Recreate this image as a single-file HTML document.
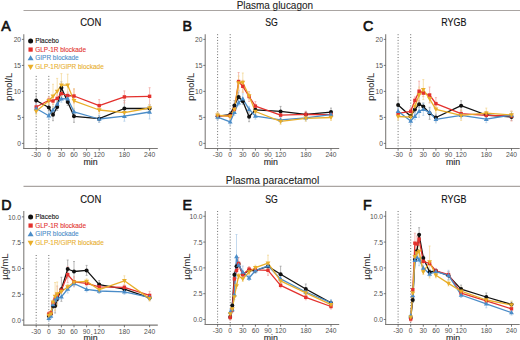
<!DOCTYPE html><html><head><meta charset="utf-8"><style>html,body{margin:0;padding:0;width:520px;height:340px;overflow:hidden;background:#fff;font-family:"Liberation Sans", sans-serif}</style></head><body><svg width="520" height="340" viewBox="0 0 520 340" style="position:absolute;left:0;top:0;font-family:'Liberation Sans', sans-serif">
<rect width="520" height="340" fill="#fff"/>
<line x1="23.5" y1="10.45" x2="520" y2="10.45" stroke="#aaa5a2" stroke-width="1.15"/>
<text x="274.85" y="8.70" font-size="10.2" fill="#222" text-anchor="middle" font-weight="normal" textLength="76.30" lengthAdjust="spacingAndGlyphs" stroke="#222" stroke-width="0.08">Plasma glucagon</text>
<line x1="23.5" y1="186.35" x2="520" y2="186.35" stroke="#aaa5a2" stroke-width="1.15"/>
<text x="272.50" y="184.40" font-size="10.2" fill="#222" text-anchor="middle" font-weight="normal" textLength="93.40" lengthAdjust="spacingAndGlyphs" stroke="#222" stroke-width="0.08">Plasma paracetamol</text>
<text x="1.20" y="31.30" font-size="15.0" fill="#111" text-anchor="start" font-weight="normal" textLength="9.50" lengthAdjust="spacingAndGlyphs" stroke="#111" stroke-width="0.65">A</text>
<text x="90.75" y="26.00" font-size="10.3" fill="#111" text-anchor="middle" font-weight="normal" textLength="21.00" lengthAdjust="spacingAndGlyphs" stroke="#111" stroke-width="0.12">CON</text>
<line x1="36.20" y1="75.9" x2="36.20" y2="148.5" stroke="#555" stroke-width="0.85" stroke-dasharray="1 1.85"/>
<line x1="48.80" y1="75.9" x2="48.80" y2="148.5" stroke="#555" stroke-width="0.85" stroke-dasharray="1 1.85"/>
<line x1="23.8" y1="34.3" x2="23.8" y2="149.0" stroke="#7a7876" stroke-width="1.05"/>
<line x1="23.3" y1="148.5" x2="157.8" y2="148.5" stroke="#7a7876" stroke-width="1.05"/>
<line x1="21.900000000000002" y1="143.40" x2="23.8" y2="143.40" stroke="#555" stroke-width="0.8"/>
<text x="21.10" y="146.20" font-size="7.8" fill="#505050" text-anchor="end" font-weight="normal" textLength="3.73" lengthAdjust="spacingAndGlyphs" >0</text>
<line x1="21.900000000000002" y1="117.40" x2="23.8" y2="117.40" stroke="#555" stroke-width="0.8"/>
<text x="21.10" y="120.20" font-size="7.8" fill="#505050" text-anchor="end" font-weight="normal" textLength="3.73" lengthAdjust="spacingAndGlyphs" >5</text>
<line x1="21.900000000000002" y1="91.40" x2="23.8" y2="91.40" stroke="#555" stroke-width="0.8"/>
<text x="21.10" y="94.20" font-size="7.8" fill="#505050" text-anchor="end" font-weight="normal" textLength="7.46" lengthAdjust="spacingAndGlyphs" >10</text>
<line x1="21.900000000000002" y1="65.40" x2="23.8" y2="65.40" stroke="#555" stroke-width="0.8"/>
<text x="21.10" y="68.20" font-size="7.8" fill="#505050" text-anchor="end" font-weight="normal" textLength="7.46" lengthAdjust="spacingAndGlyphs" >15</text>
<line x1="21.900000000000002" y1="39.40" x2="23.8" y2="39.40" stroke="#555" stroke-width="0.8"/>
<text x="21.10" y="42.20" font-size="7.8" fill="#505050" text-anchor="end" font-weight="normal" textLength="7.46" lengthAdjust="spacingAndGlyphs" >20</text>
<line x1="36.20" y1="148.5" x2="36.20" y2="150.7" stroke="#555" stroke-width="0.8"/>
<text x="36.20" y="157.10" font-size="7.8" fill="#505050" text-anchor="middle" font-weight="normal" textLength="9.70" lengthAdjust="spacingAndGlyphs" >-30</text>
<line x1="48.80" y1="148.5" x2="48.80" y2="150.7" stroke="#555" stroke-width="0.8"/>
<text x="48.80" y="157.10" font-size="7.8" fill="#505050" text-anchor="middle" font-weight="normal" textLength="3.73" lengthAdjust="spacingAndGlyphs" >0</text>
<line x1="61.40" y1="148.5" x2="61.40" y2="150.7" stroke="#555" stroke-width="0.8"/>
<text x="61.40" y="157.10" font-size="7.8" fill="#505050" text-anchor="middle" font-weight="normal" textLength="7.46" lengthAdjust="spacingAndGlyphs" >30</text>
<line x1="74.00" y1="148.5" x2="74.00" y2="150.7" stroke="#555" stroke-width="0.8"/>
<text x="74.00" y="157.10" font-size="7.8" fill="#505050" text-anchor="middle" font-weight="normal" textLength="7.46" lengthAdjust="spacingAndGlyphs" >60</text>
<line x1="86.60" y1="148.5" x2="86.60" y2="150.7" stroke="#555" stroke-width="0.8"/>
<text x="86.60" y="157.10" font-size="7.8" fill="#505050" text-anchor="middle" font-weight="normal" textLength="7.46" lengthAdjust="spacingAndGlyphs" >90</text>
<line x1="99.20" y1="148.5" x2="99.20" y2="150.7" stroke="#555" stroke-width="0.8"/>
<text x="99.20" y="157.10" font-size="7.8" fill="#505050" text-anchor="middle" font-weight="normal" textLength="11.19" lengthAdjust="spacingAndGlyphs" >120</text>
<line x1="124.40" y1="148.5" x2="124.40" y2="150.7" stroke="#555" stroke-width="0.8"/>
<text x="124.40" y="157.10" font-size="7.8" fill="#505050" text-anchor="middle" font-weight="normal" textLength="11.19" lengthAdjust="spacingAndGlyphs" >180</text>
<line x1="149.60" y1="148.5" x2="149.60" y2="150.7" stroke="#555" stroke-width="0.8"/>
<text x="149.60" y="157.10" font-size="7.8" fill="#505050" text-anchor="middle" font-weight="normal" textLength="11.19" lengthAdjust="spacingAndGlyphs" >240</text>
<text x="90.50" y="164.50" font-size="8.8" fill="#222" text-anchor="middle" font-weight="normal" stroke="#222" stroke-width="0.1">min</text>
<text x="0.00" y="0.00" font-size="9.3" fill="#2a2a2a" text-anchor="middle" font-weight="normal" stroke="#2a2a2a" stroke-width="0.05" transform="translate(12.100000000000001,86.7) rotate(-90)">pmol/L</text>
<path d="M36.20 93.50V107.50M35.20 93.50H37.20M35.20 107.50H37.20" stroke="#9a9a9a" stroke-width="0.7" fill="none"/>
<path d="M48.80 104.00V111.00M47.80 104.00H49.80M47.80 111.00H49.80" stroke="#9a9a9a" stroke-width="0.7" fill="none"/>
<path d="M53.00 108.70V120.70M52.00 108.70H54.00M52.00 120.70H54.00" stroke="#9a9a9a" stroke-width="0.7" fill="none"/>
<path d="M57.20 103.50V110.50M56.20 103.50H58.20M56.20 110.50H58.20" stroke="#9a9a9a" stroke-width="0.7" fill="none"/>
<path d="M61.40 81.80V93.80M60.40 81.80H62.40M60.40 93.80H62.40" stroke="#9a9a9a" stroke-width="0.7" fill="none"/>
<path d="M67.70 98.40V105.40M66.70 98.40H68.70M66.70 105.40H68.70" stroke="#9a9a9a" stroke-width="0.7" fill="none"/>
<path d="M74.00 110.30V122.30M73.00 110.30H75.00M73.00 122.30H75.00" stroke="#9a9a9a" stroke-width="0.7" fill="none"/>
<path d="M99.20 115.20V122.20M98.20 115.20H100.20M98.20 122.20H100.20" stroke="#9a9a9a" stroke-width="0.7" fill="none"/>
<path d="M124.40 100.50V116.50M123.40 100.50H125.40M123.40 116.50H125.40" stroke="#9a9a9a" stroke-width="0.7" fill="none"/>
<path d="M149.60 105.00V112.00M148.60 105.00H150.60M148.60 112.00H150.60" stroke="#9a9a9a" stroke-width="0.7" fill="none"/>
<path d="M36.20 102.00V112.00M35.20 102.00H37.20M35.20 112.00H37.20" stroke="#F1A09A" stroke-width="0.7" fill="none"/>
<path d="M48.80 96.80V103.80M47.80 96.80H49.80M47.80 103.80H49.80" stroke="#F1A09A" stroke-width="0.7" fill="none"/>
<path d="M53.00 97.50V104.50M52.00 97.50H54.00M52.00 104.50H54.00" stroke="#F1A09A" stroke-width="0.7" fill="none"/>
<path d="M57.20 94.90V101.90M56.20 94.90H58.20M56.20 101.90H58.20" stroke="#F1A09A" stroke-width="0.7" fill="none"/>
<path d="M61.40 90.10V97.10M60.40 90.10H62.40M60.40 97.10H62.40" stroke="#F1A09A" stroke-width="0.7" fill="none"/>
<path d="M67.70 92.00V99.00M66.70 92.00H68.70M66.70 99.00H68.70" stroke="#F1A09A" stroke-width="0.7" fill="none"/>
<path d="M74.00 89.00V103.00M73.00 89.00H75.00M73.00 103.00H75.00" stroke="#F1A09A" stroke-width="0.7" fill="none"/>
<path d="M99.20 99.60V111.60M98.20 99.60H100.20M98.20 111.60H100.20" stroke="#F1A09A" stroke-width="0.7" fill="none"/>
<path d="M124.40 90.90V102.90M123.40 90.90H125.40M123.40 102.90H125.40" stroke="#F1A09A" stroke-width="0.7" fill="none"/>
<path d="M149.60 87.70V104.90M148.60 87.70H150.60M148.60 104.90H150.60" stroke="#F1A09A" stroke-width="0.7" fill="none"/>
<path d="M36.20 103.50V113.50M35.20 103.50H37.20M35.20 113.50H37.20" stroke="#A9C9E6" stroke-width="0.7" fill="none"/>
<path d="M48.80 112.20V119.20M47.80 112.20H49.80M47.80 119.20H49.80" stroke="#A9C9E6" stroke-width="0.7" fill="none"/>
<path d="M53.00 106.40V113.40M52.00 106.40H54.00M52.00 113.40H54.00" stroke="#A9C9E6" stroke-width="0.7" fill="none"/>
<path d="M57.20 100.60V107.60M56.20 100.60H58.20M56.20 107.60H58.20" stroke="#A9C9E6" stroke-width="0.7" fill="none"/>
<path d="M61.40 95.20V102.20M60.40 95.20H62.40M60.40 102.20H62.40" stroke="#A9C9E6" stroke-width="0.7" fill="none"/>
<path d="M67.70 95.30V102.30M66.70 95.30H68.70M66.70 102.30H68.70" stroke="#A9C9E6" stroke-width="0.7" fill="none"/>
<path d="M74.00 108.30V115.30M73.00 108.30H75.00M73.00 115.30H75.00" stroke="#A9C9E6" stroke-width="0.7" fill="none"/>
<path d="M99.20 115.50V122.50M98.20 115.50H100.20M98.20 122.50H100.20" stroke="#A9C9E6" stroke-width="0.7" fill="none"/>
<path d="M124.40 111.20V121.20M123.40 111.20H125.40M123.40 121.20H125.40" stroke="#A9C9E6" stroke-width="0.7" fill="none"/>
<path d="M149.60 105.00V119.00M148.60 105.00H150.60M148.60 119.00H150.60" stroke="#A9C9E6" stroke-width="0.7" fill="none"/>
<path d="M36.20 107.80V114.80M35.20 107.80H37.20M35.20 114.80H37.20" stroke="#F2D48E" stroke-width="0.7" fill="none"/>
<path d="M48.80 97.30V104.30M47.80 97.30H49.80M47.80 104.30H49.80" stroke="#F2D48E" stroke-width="0.7" fill="none"/>
<path d="M53.00 84.30V108.30M52.00 84.30H54.00M52.00 108.30H54.00" stroke="#F2D48E" stroke-width="0.7" fill="none"/>
<path d="M57.20 78.40V104.40M56.20 78.40H58.20M56.20 104.40H58.20" stroke="#F2D48E" stroke-width="0.7" fill="none"/>
<path d="M61.40 73.60V96.80M60.40 73.60H62.40M60.40 96.80H62.40" stroke="#F2D48E" stroke-width="0.7" fill="none"/>
<path d="M67.70 74.20V96.20M66.70 74.20H68.70M66.70 96.20H68.70" stroke="#F2D48E" stroke-width="0.7" fill="none"/>
<path d="M74.00 88.80V112.80M73.00 88.80H75.00M73.00 112.80H75.00" stroke="#F2D48E" stroke-width="0.7" fill="none"/>
<path d="M99.20 106.50V113.50M98.20 106.50H100.20M98.20 113.50H100.20" stroke="#F2D48E" stroke-width="0.7" fill="none"/>
<path d="M124.40 109.20V116.20M123.40 109.20H125.40M123.40 116.20H125.40" stroke="#F2D48E" stroke-width="0.7" fill="none"/>
<path d="M149.60 104.50V111.50M148.60 104.50H150.60M148.60 111.50H150.60" stroke="#F2D48E" stroke-width="0.7" fill="none"/>
<polyline points="36.20,100.50 48.80,107.50 53.00,114.70 57.20,107.00 61.40,87.80 67.70,101.90 74.00,116.30 99.20,118.70 124.40,108.50 149.60,108.50" fill="none" stroke="#111111" stroke-width="1.3" stroke-linejoin="round"/>
<polyline points="36.20,107.00 48.80,100.30 53.00,101.00 57.20,98.40 61.40,93.60 67.70,95.50 74.00,96.00 99.20,105.60 124.40,96.90 149.60,96.30" fill="none" stroke="#E3312D" stroke-width="1.3" stroke-linejoin="round"/>
<polyline points="36.20,108.50 48.80,115.70 53.00,109.90 57.20,104.10 61.40,98.70 67.70,98.80 74.00,111.80 99.20,119.00 124.40,116.20 149.60,112.00" fill="none" stroke="#4A8CC8" stroke-width="1.3" stroke-linejoin="round"/>
<polyline points="36.20,111.30 48.80,100.80 53.00,96.30 57.20,91.40 61.40,85.20 67.70,85.20 74.00,100.80 99.20,110.00 124.40,112.70 149.60,108.00" fill="none" stroke="#E9AE2A" stroke-width="1.3" stroke-linejoin="round"/>
<circle cx="36.20" cy="100.50" r="2.0" fill="#111111"/>
<circle cx="48.80" cy="107.50" r="2.0" fill="#111111"/>
<circle cx="53.00" cy="114.70" r="2.0" fill="#111111"/>
<circle cx="57.20" cy="107.00" r="2.0" fill="#111111"/>
<circle cx="61.40" cy="87.80" r="2.0" fill="#111111"/>
<circle cx="67.70" cy="101.90" r="2.0" fill="#111111"/>
<circle cx="74.00" cy="116.30" r="2.0" fill="#111111"/>
<circle cx="99.20" cy="118.70" r="2.0" fill="#111111"/>
<circle cx="124.40" cy="108.50" r="2.0" fill="#111111"/>
<circle cx="149.60" cy="108.50" r="2.0" fill="#111111"/>
<rect x="34.50" y="105.30" width="3.40" height="3.40" fill="#E3312D"/>
<rect x="47.10" y="98.60" width="3.40" height="3.40" fill="#E3312D"/>
<rect x="51.30" y="99.30" width="3.40" height="3.40" fill="#E3312D"/>
<rect x="55.50" y="96.70" width="3.40" height="3.40" fill="#E3312D"/>
<rect x="59.70" y="91.90" width="3.40" height="3.40" fill="#E3312D"/>
<rect x="66.00" y="93.80" width="3.40" height="3.40" fill="#E3312D"/>
<rect x="72.30" y="94.30" width="3.40" height="3.40" fill="#E3312D"/>
<rect x="97.50" y="103.90" width="3.40" height="3.40" fill="#E3312D"/>
<rect x="122.70" y="95.20" width="3.40" height="3.40" fill="#E3312D"/>
<rect x="147.90" y="94.60" width="3.40" height="3.40" fill="#E3312D"/>
<path d="M36.20 106.02L38.60 110.18L33.80 110.18Z" fill="#4A8CC8"/>
<path d="M48.80 113.22L51.20 117.38L46.40 117.38Z" fill="#4A8CC8"/>
<path d="M53.00 107.42L55.40 111.58L50.60 111.58Z" fill="#4A8CC8"/>
<path d="M57.20 101.62L59.60 105.78L54.80 105.78Z" fill="#4A8CC8"/>
<path d="M61.40 96.22L63.80 100.38L59.00 100.38Z" fill="#4A8CC8"/>
<path d="M67.70 96.32L70.10 100.48L65.30 100.48Z" fill="#4A8CC8"/>
<path d="M74.00 109.32L76.40 113.48L71.60 113.48Z" fill="#4A8CC8"/>
<path d="M99.20 116.52L101.60 120.68L96.80 120.68Z" fill="#4A8CC8"/>
<path d="M124.40 113.72L126.80 117.88L122.00 117.88Z" fill="#4A8CC8"/>
<path d="M149.60 109.52L152.00 113.68L147.20 113.68Z" fill="#4A8CC8"/>
<path d="M36.20 113.78L38.60 109.62L33.80 109.62Z" fill="#E9AE2A"/>
<path d="M48.80 103.28L51.20 99.12L46.40 99.12Z" fill="#E9AE2A"/>
<path d="M53.00 98.78L55.40 94.62L50.60 94.62Z" fill="#E9AE2A"/>
<path d="M57.20 93.88L59.60 89.72L54.80 89.72Z" fill="#E9AE2A"/>
<path d="M61.40 87.68L63.80 83.52L59.00 83.52Z" fill="#E9AE2A"/>
<path d="M67.70 87.68L70.10 83.52L65.30 83.52Z" fill="#E9AE2A"/>
<path d="M74.00 103.28L76.40 99.12L71.60 99.12Z" fill="#E9AE2A"/>
<path d="M99.20 112.48L101.60 108.32L96.80 108.32Z" fill="#E9AE2A"/>
<path d="M124.40 115.18L126.80 111.02L122.00 111.02Z" fill="#E9AE2A"/>
<path d="M149.60 110.48L152.00 106.32L147.20 106.32Z" fill="#E9AE2A"/>
<text x="182.60" y="31.30" font-size="15.0" fill="#111" text-anchor="start" font-weight="normal" textLength="9.50" lengthAdjust="spacingAndGlyphs" stroke="#111" stroke-width="0.65">B</text>
<text x="271.50" y="26.00" font-size="10.3" fill="#111" text-anchor="middle" font-weight="normal" textLength="12.60" lengthAdjust="spacingAndGlyphs" stroke="#111" stroke-width="0.12">SG</text>
<line x1="217.60" y1="34.2" x2="217.60" y2="148.5" stroke="#555" stroke-width="0.85" stroke-dasharray="1 1.85"/>
<line x1="230.20" y1="34.2" x2="230.20" y2="148.5" stroke="#555" stroke-width="0.85" stroke-dasharray="1 1.85"/>
<line x1="205.2" y1="34.3" x2="205.2" y2="149.0" stroke="#7a7876" stroke-width="1.05"/>
<line x1="204.7" y1="148.5" x2="339.2" y2="148.5" stroke="#7a7876" stroke-width="1.05"/>
<line x1="203.29999999999998" y1="143.40" x2="205.2" y2="143.40" stroke="#555" stroke-width="0.8"/>
<text x="202.50" y="146.20" font-size="7.8" fill="#505050" text-anchor="end" font-weight="normal" textLength="3.73" lengthAdjust="spacingAndGlyphs" >0</text>
<line x1="203.29999999999998" y1="117.40" x2="205.2" y2="117.40" stroke="#555" stroke-width="0.8"/>
<text x="202.50" y="120.20" font-size="7.8" fill="#505050" text-anchor="end" font-weight="normal" textLength="3.73" lengthAdjust="spacingAndGlyphs" >5</text>
<line x1="203.29999999999998" y1="91.40" x2="205.2" y2="91.40" stroke="#555" stroke-width="0.8"/>
<text x="202.50" y="94.20" font-size="7.8" fill="#505050" text-anchor="end" font-weight="normal" textLength="7.46" lengthAdjust="spacingAndGlyphs" >10</text>
<line x1="203.29999999999998" y1="65.40" x2="205.2" y2="65.40" stroke="#555" stroke-width="0.8"/>
<text x="202.50" y="68.20" font-size="7.8" fill="#505050" text-anchor="end" font-weight="normal" textLength="7.46" lengthAdjust="spacingAndGlyphs" >15</text>
<line x1="203.29999999999998" y1="39.40" x2="205.2" y2="39.40" stroke="#555" stroke-width="0.8"/>
<text x="202.50" y="42.20" font-size="7.8" fill="#505050" text-anchor="end" font-weight="normal" textLength="7.46" lengthAdjust="spacingAndGlyphs" >20</text>
<line x1="217.60" y1="148.5" x2="217.60" y2="150.7" stroke="#555" stroke-width="0.8"/>
<text x="217.60" y="157.10" font-size="7.8" fill="#505050" text-anchor="middle" font-weight="normal" textLength="9.70" lengthAdjust="spacingAndGlyphs" >-30</text>
<line x1="230.20" y1="148.5" x2="230.20" y2="150.7" stroke="#555" stroke-width="0.8"/>
<text x="230.20" y="157.10" font-size="7.8" fill="#505050" text-anchor="middle" font-weight="normal" textLength="3.73" lengthAdjust="spacingAndGlyphs" >0</text>
<line x1="242.80" y1="148.5" x2="242.80" y2="150.7" stroke="#555" stroke-width="0.8"/>
<text x="242.80" y="157.10" font-size="7.8" fill="#505050" text-anchor="middle" font-weight="normal" textLength="7.46" lengthAdjust="spacingAndGlyphs" >30</text>
<line x1="255.40" y1="148.5" x2="255.40" y2="150.7" stroke="#555" stroke-width="0.8"/>
<text x="255.40" y="157.10" font-size="7.8" fill="#505050" text-anchor="middle" font-weight="normal" textLength="7.46" lengthAdjust="spacingAndGlyphs" >60</text>
<line x1="268.00" y1="148.5" x2="268.00" y2="150.7" stroke="#555" stroke-width="0.8"/>
<text x="268.00" y="157.10" font-size="7.8" fill="#505050" text-anchor="middle" font-weight="normal" textLength="7.46" lengthAdjust="spacingAndGlyphs" >90</text>
<line x1="280.60" y1="148.5" x2="280.60" y2="150.7" stroke="#555" stroke-width="0.8"/>
<text x="280.60" y="157.10" font-size="7.8" fill="#505050" text-anchor="middle" font-weight="normal" textLength="11.19" lengthAdjust="spacingAndGlyphs" >120</text>
<line x1="305.80" y1="148.5" x2="305.80" y2="150.7" stroke="#555" stroke-width="0.8"/>
<text x="305.80" y="157.10" font-size="7.8" fill="#505050" text-anchor="middle" font-weight="normal" textLength="11.19" lengthAdjust="spacingAndGlyphs" >180</text>
<line x1="331.00" y1="148.5" x2="331.00" y2="150.7" stroke="#555" stroke-width="0.8"/>
<text x="331.00" y="157.10" font-size="7.8" fill="#505050" text-anchor="middle" font-weight="normal" textLength="11.19" lengthAdjust="spacingAndGlyphs" >240</text>
<text x="270.90" y="164.50" font-size="8.8" fill="#222" text-anchor="middle" font-weight="normal" stroke="#222" stroke-width="0.1">min</text>
<text x="0.00" y="0.00" font-size="9.3" fill="#2a2a2a" text-anchor="middle" font-weight="normal" stroke="#2a2a2a" stroke-width="0.05" transform="translate(193.5,86.7) rotate(-90)">pmol/L</text>
<path d="M217.60 113.20V119.20M216.60 113.20H218.60M216.60 119.20H218.60" stroke="#9a9a9a" stroke-width="0.7" fill="none"/>
<path d="M230.20 111.60V117.60M229.20 111.60H231.20M229.20 117.60H231.20" stroke="#9a9a9a" stroke-width="0.7" fill="none"/>
<path d="M234.40 100.60V110.60M233.40 100.60H235.40M233.40 110.60H235.40" stroke="#9a9a9a" stroke-width="0.7" fill="none"/>
<path d="M238.60 91.90V101.90M237.60 91.90H239.60M237.60 101.90H239.60" stroke="#9a9a9a" stroke-width="0.7" fill="none"/>
<path d="M242.80 98.20V104.20M241.80 98.20H243.80M241.80 104.20H243.80" stroke="#9a9a9a" stroke-width="0.7" fill="none"/>
<path d="M249.10 111.70V121.70M248.10 111.70H250.10M248.10 121.70H250.10" stroke="#9a9a9a" stroke-width="0.7" fill="none"/>
<path d="M255.40 106.80V112.80M254.40 106.80H256.40M254.40 112.80H256.40" stroke="#9a9a9a" stroke-width="0.7" fill="none"/>
<path d="M280.60 106.40V116.40M279.60 106.40H281.60M279.60 116.40H281.60" stroke="#9a9a9a" stroke-width="0.7" fill="none"/>
<path d="M305.80 111.40V117.40M304.80 111.40H306.80M304.80 117.40H306.80" stroke="#9a9a9a" stroke-width="0.7" fill="none"/>
<path d="M331.00 108.10V116.10M330.00 108.10H332.00M330.00 116.10H332.00" stroke="#9a9a9a" stroke-width="0.7" fill="none"/>
<path d="M217.60 112.80V118.80M216.60 112.80H218.60M216.60 118.80H218.60" stroke="#F1A09A" stroke-width="0.7" fill="none"/>
<path d="M230.20 112.80V118.80M229.20 112.80H231.20M229.20 118.80H231.20" stroke="#F1A09A" stroke-width="0.7" fill="none"/>
<path d="M234.40 106.40V112.40M233.40 106.40H235.40M233.40 112.40H235.40" stroke="#F1A09A" stroke-width="0.7" fill="none"/>
<path d="M238.60 72.50V90.50M237.60 72.50H239.60M237.60 90.50H239.60" stroke="#F1A09A" stroke-width="0.7" fill="none"/>
<path d="M242.80 80.30V92.30M241.80 80.30H243.80M241.80 92.30H243.80" stroke="#F1A09A" stroke-width="0.7" fill="none"/>
<path d="M249.10 91.50V101.50M248.10 91.50H250.10M248.10 101.50H250.10" stroke="#F1A09A" stroke-width="0.7" fill="none"/>
<path d="M255.40 101.60V110.60M254.40 101.60H256.40M254.40 110.60H256.40" stroke="#F1A09A" stroke-width="0.7" fill="none"/>
<path d="M280.60 112.10V118.10M279.60 112.10H281.60M279.60 118.10H281.60" stroke="#F1A09A" stroke-width="0.7" fill="none"/>
<path d="M305.80 111.40V117.40M304.80 111.40H306.80M304.80 117.40H306.80" stroke="#F1A09A" stroke-width="0.7" fill="none"/>
<path d="M331.00 111.60V117.60M330.00 111.60H332.00M330.00 117.60H332.00" stroke="#F1A09A" stroke-width="0.7" fill="none"/>
<path d="M217.60 114.10V120.10M216.60 114.10H218.60M216.60 120.10H218.60" stroke="#A9C9E6" stroke-width="0.7" fill="none"/>
<path d="M230.20 118.90V124.90M229.20 118.90H231.20M229.20 124.90H231.20" stroke="#A9C9E6" stroke-width="0.7" fill="none"/>
<path d="M234.40 109.30V115.30M233.40 109.30H235.40M233.40 115.30H235.40" stroke="#A9C9E6" stroke-width="0.7" fill="none"/>
<path d="M238.60 99.70V105.70M237.60 99.70H239.60M237.60 105.70H239.60" stroke="#A9C9E6" stroke-width="0.7" fill="none"/>
<path d="M242.80 93.80V103.80M241.80 93.80H243.80M241.80 103.80H243.80" stroke="#A9C9E6" stroke-width="0.7" fill="none"/>
<path d="M249.10 106.40V112.40M248.10 106.40H250.10M248.10 112.40H250.10" stroke="#A9C9E6" stroke-width="0.7" fill="none"/>
<path d="M255.40 113.10V119.10M254.40 113.10H256.40M254.40 119.10H256.40" stroke="#A9C9E6" stroke-width="0.7" fill="none"/>
<path d="M280.60 116.90V122.90M279.60 116.90H281.60M279.60 122.90H281.60" stroke="#A9C9E6" stroke-width="0.7" fill="none"/>
<path d="M305.80 114.90V120.90M304.80 114.90H306.80M304.80 120.90H306.80" stroke="#A9C9E6" stroke-width="0.7" fill="none"/>
<path d="M331.00 111.60V117.60M330.00 111.60H332.00M330.00 117.60H332.00" stroke="#A9C9E6" stroke-width="0.7" fill="none"/>
<path d="M217.60 112.20V118.20M216.60 112.20H218.60M216.60 118.20H218.60" stroke="#F2D48E" stroke-width="0.7" fill="none"/>
<path d="M230.20 113.50V119.50M229.20 113.50H231.20M229.20 119.50H231.20" stroke="#F2D48E" stroke-width="0.7" fill="none"/>
<path d="M234.40 106.40V112.40M233.40 106.40H235.40M233.40 112.40H235.40" stroke="#F2D48E" stroke-width="0.7" fill="none"/>
<path d="M238.60 76.00V90.00M237.60 76.00H239.60M237.60 90.00H239.60" stroke="#F2D48E" stroke-width="0.7" fill="none"/>
<path d="M242.80 73.00V92.00M241.80 73.00H243.80M241.80 92.00H243.80" stroke="#F2D48E" stroke-width="0.7" fill="none"/>
<path d="M249.10 93.00V99.00M248.10 93.00H250.10M248.10 99.00H250.10" stroke="#F2D48E" stroke-width="0.7" fill="none"/>
<path d="M255.40 108.50V114.50M254.40 108.50H256.40M254.40 114.50H256.40" stroke="#F2D48E" stroke-width="0.7" fill="none"/>
<path d="M280.60 118.40V124.40M279.60 118.40H281.60M279.60 124.40H281.60" stroke="#F2D48E" stroke-width="0.7" fill="none"/>
<path d="M305.80 115.30V121.30M304.80 115.30H306.80M304.80 121.30H306.80" stroke="#F2D48E" stroke-width="0.7" fill="none"/>
<path d="M331.00 114.50V120.50M330.00 114.50H332.00M330.00 120.50H332.00" stroke="#F2D48E" stroke-width="0.7" fill="none"/>
<polyline points="217.60,116.20 230.20,114.60 234.40,105.60 238.60,96.90 242.80,101.20 249.10,116.70 255.40,109.80 280.60,111.40 305.80,114.40 331.00,112.10" fill="none" stroke="#111111" stroke-width="1.3" stroke-linejoin="round"/>
<polyline points="217.60,115.80 230.20,115.80 234.40,109.40 238.60,81.50 242.80,86.30 249.10,96.50 255.40,106.10 280.60,115.10 305.80,114.40 331.00,114.60" fill="none" stroke="#E3312D" stroke-width="1.3" stroke-linejoin="round"/>
<polyline points="217.60,117.10 230.20,121.90 234.40,112.30 238.60,102.70 242.80,98.80 249.10,109.40 255.40,116.10 280.60,119.90 305.80,117.90 331.00,114.60" fill="none" stroke="#4A8CC8" stroke-width="1.3" stroke-linejoin="round"/>
<polyline points="217.60,115.20 230.20,116.50 234.40,109.40 238.60,83.00 242.80,82.50 249.10,96.00 255.40,111.50 280.60,121.40 305.80,118.30 331.00,117.50" fill="none" stroke="#E9AE2A" stroke-width="1.3" stroke-linejoin="round"/>
<circle cx="217.60" cy="116.20" r="2.0" fill="#111111"/>
<circle cx="230.20" cy="114.60" r="2.0" fill="#111111"/>
<circle cx="234.40" cy="105.60" r="2.0" fill="#111111"/>
<circle cx="238.60" cy="96.90" r="2.0" fill="#111111"/>
<circle cx="242.80" cy="101.20" r="2.0" fill="#111111"/>
<circle cx="249.10" cy="116.70" r="2.0" fill="#111111"/>
<circle cx="255.40" cy="109.80" r="2.0" fill="#111111"/>
<circle cx="280.60" cy="111.40" r="2.0" fill="#111111"/>
<circle cx="305.80" cy="114.40" r="2.0" fill="#111111"/>
<circle cx="331.00" cy="112.10" r="2.0" fill="#111111"/>
<rect x="215.90" y="114.10" width="3.40" height="3.40" fill="#E3312D"/>
<rect x="228.50" y="114.10" width="3.40" height="3.40" fill="#E3312D"/>
<rect x="232.70" y="107.70" width="3.40" height="3.40" fill="#E3312D"/>
<rect x="236.90" y="79.80" width="3.40" height="3.40" fill="#E3312D"/>
<rect x="241.10" y="84.60" width="3.40" height="3.40" fill="#E3312D"/>
<rect x="247.40" y="94.80" width="3.40" height="3.40" fill="#E3312D"/>
<rect x="253.70" y="104.40" width="3.40" height="3.40" fill="#E3312D"/>
<rect x="278.90" y="113.40" width="3.40" height="3.40" fill="#E3312D"/>
<rect x="304.10" y="112.70" width="3.40" height="3.40" fill="#E3312D"/>
<rect x="329.30" y="112.90" width="3.40" height="3.40" fill="#E3312D"/>
<path d="M217.60 114.62L220.00 118.78L215.20 118.78Z" fill="#4A8CC8"/>
<path d="M230.20 119.42L232.60 123.58L227.80 123.58Z" fill="#4A8CC8"/>
<path d="M234.40 109.82L236.80 113.98L232.00 113.98Z" fill="#4A8CC8"/>
<path d="M238.60 100.22L241.00 104.38L236.20 104.38Z" fill="#4A8CC8"/>
<path d="M242.80 96.32L245.20 100.48L240.40 100.48Z" fill="#4A8CC8"/>
<path d="M249.10 106.92L251.50 111.08L246.70 111.08Z" fill="#4A8CC8"/>
<path d="M255.40 113.62L257.80 117.78L253.00 117.78Z" fill="#4A8CC8"/>
<path d="M280.60 117.42L283.00 121.58L278.20 121.58Z" fill="#4A8CC8"/>
<path d="M305.80 115.42L308.20 119.58L303.40 119.58Z" fill="#4A8CC8"/>
<path d="M331.00 112.12L333.40 116.28L328.60 116.28Z" fill="#4A8CC8"/>
<path d="M217.60 117.68L220.00 113.52L215.20 113.52Z" fill="#E9AE2A"/>
<path d="M230.20 118.98L232.60 114.82L227.80 114.82Z" fill="#E9AE2A"/>
<path d="M234.40 111.88L236.80 107.72L232.00 107.72Z" fill="#E9AE2A"/>
<path d="M238.60 85.48L241.00 81.32L236.20 81.32Z" fill="#E9AE2A"/>
<path d="M242.80 84.98L245.20 80.82L240.40 80.82Z" fill="#E9AE2A"/>
<path d="M249.10 98.48L251.50 94.32L246.70 94.32Z" fill="#E9AE2A"/>
<path d="M255.40 113.98L257.80 109.82L253.00 109.82Z" fill="#E9AE2A"/>
<path d="M280.60 123.88L283.00 119.72L278.20 119.72Z" fill="#E9AE2A"/>
<path d="M305.80 120.78L308.20 116.62L303.40 116.62Z" fill="#E9AE2A"/>
<path d="M331.00 119.98L333.40 115.82L328.60 115.82Z" fill="#E9AE2A"/>
<text x="363.10" y="31.30" font-size="15.0" fill="#111" text-anchor="start" font-weight="normal" textLength="10.29" lengthAdjust="spacingAndGlyphs" stroke="#111" stroke-width="0.65">C</text>
<text x="453.85" y="26.00" font-size="10.3" fill="#111" text-anchor="middle" font-weight="normal" textLength="25.20" lengthAdjust="spacingAndGlyphs" stroke="#111" stroke-width="0.12">RYGB</text>
<line x1="398.10" y1="34.2" x2="398.10" y2="148.5" stroke="#555" stroke-width="0.85" stroke-dasharray="1 1.85"/>
<line x1="410.70" y1="34.2" x2="410.70" y2="148.5" stroke="#555" stroke-width="0.85" stroke-dasharray="1 1.85"/>
<line x1="385.7" y1="34.3" x2="385.7" y2="149.0" stroke="#7a7876" stroke-width="1.05"/>
<line x1="385.2" y1="148.5" x2="519.7" y2="148.5" stroke="#7a7876" stroke-width="1.05"/>
<line x1="383.8" y1="143.40" x2="385.7" y2="143.40" stroke="#555" stroke-width="0.8"/>
<text x="383.00" y="146.20" font-size="7.8" fill="#505050" text-anchor="end" font-weight="normal" textLength="3.73" lengthAdjust="spacingAndGlyphs" >0</text>
<line x1="383.8" y1="117.40" x2="385.7" y2="117.40" stroke="#555" stroke-width="0.8"/>
<text x="383.00" y="120.20" font-size="7.8" fill="#505050" text-anchor="end" font-weight="normal" textLength="3.73" lengthAdjust="spacingAndGlyphs" >5</text>
<line x1="383.8" y1="91.40" x2="385.7" y2="91.40" stroke="#555" stroke-width="0.8"/>
<text x="383.00" y="94.20" font-size="7.8" fill="#505050" text-anchor="end" font-weight="normal" textLength="7.46" lengthAdjust="spacingAndGlyphs" >10</text>
<line x1="383.8" y1="65.40" x2="385.7" y2="65.40" stroke="#555" stroke-width="0.8"/>
<text x="383.00" y="68.20" font-size="7.8" fill="#505050" text-anchor="end" font-weight="normal" textLength="7.46" lengthAdjust="spacingAndGlyphs" >15</text>
<line x1="383.8" y1="39.40" x2="385.7" y2="39.40" stroke="#555" stroke-width="0.8"/>
<text x="383.00" y="42.20" font-size="7.8" fill="#505050" text-anchor="end" font-weight="normal" textLength="7.46" lengthAdjust="spacingAndGlyphs" >20</text>
<line x1="398.10" y1="148.5" x2="398.10" y2="150.7" stroke="#555" stroke-width="0.8"/>
<text x="398.10" y="157.10" font-size="7.8" fill="#505050" text-anchor="middle" font-weight="normal" textLength="9.70" lengthAdjust="spacingAndGlyphs" >-30</text>
<line x1="410.70" y1="148.5" x2="410.70" y2="150.7" stroke="#555" stroke-width="0.8"/>
<text x="410.70" y="157.10" font-size="7.8" fill="#505050" text-anchor="middle" font-weight="normal" textLength="3.73" lengthAdjust="spacingAndGlyphs" >0</text>
<line x1="423.30" y1="148.5" x2="423.30" y2="150.7" stroke="#555" stroke-width="0.8"/>
<text x="423.30" y="157.10" font-size="7.8" fill="#505050" text-anchor="middle" font-weight="normal" textLength="7.46" lengthAdjust="spacingAndGlyphs" >30</text>
<line x1="435.90" y1="148.5" x2="435.90" y2="150.7" stroke="#555" stroke-width="0.8"/>
<text x="435.90" y="157.10" font-size="7.8" fill="#505050" text-anchor="middle" font-weight="normal" textLength="7.46" lengthAdjust="spacingAndGlyphs" >60</text>
<line x1="448.50" y1="148.5" x2="448.50" y2="150.7" stroke="#555" stroke-width="0.8"/>
<text x="448.50" y="157.10" font-size="7.8" fill="#505050" text-anchor="middle" font-weight="normal" textLength="7.46" lengthAdjust="spacingAndGlyphs" >90</text>
<line x1="461.10" y1="148.5" x2="461.10" y2="150.7" stroke="#555" stroke-width="0.8"/>
<text x="461.10" y="157.10" font-size="7.8" fill="#505050" text-anchor="middle" font-weight="normal" textLength="11.19" lengthAdjust="spacingAndGlyphs" >120</text>
<line x1="486.30" y1="148.5" x2="486.30" y2="150.7" stroke="#555" stroke-width="0.8"/>
<text x="486.30" y="157.10" font-size="7.8" fill="#505050" text-anchor="middle" font-weight="normal" textLength="11.19" lengthAdjust="spacingAndGlyphs" >180</text>
<line x1="511.50" y1="148.5" x2="511.50" y2="150.7" stroke="#555" stroke-width="0.8"/>
<text x="511.50" y="157.10" font-size="7.8" fill="#505050" text-anchor="middle" font-weight="normal" textLength="11.19" lengthAdjust="spacingAndGlyphs" >240</text>
<text x="453.00" y="164.50" font-size="8.8" fill="#222" text-anchor="middle" font-weight="normal" stroke="#222" stroke-width="0.1">min</text>
<text x="0.00" y="0.00" font-size="9.3" fill="#2a2a2a" text-anchor="middle" font-weight="normal" stroke="#2a2a2a" stroke-width="0.05" transform="translate(374.0,86.7) rotate(-90)">pmol/L</text>
<path d="M398.10 97.00V113.00M397.10 97.00H399.10M397.10 113.00H399.10" stroke="#9a9a9a" stroke-width="0.7" fill="none"/>
<path d="M410.70 112.70V119.70M409.70 112.70H411.70M409.70 119.70H411.70" stroke="#9a9a9a" stroke-width="0.7" fill="none"/>
<path d="M414.90 105.90V112.90M413.90 105.90H415.90M413.90 112.90H415.90" stroke="#9a9a9a" stroke-width="0.7" fill="none"/>
<path d="M419.10 100.70V107.70M418.10 100.70H420.10M418.10 107.70H420.10" stroke="#9a9a9a" stroke-width="0.7" fill="none"/>
<path d="M423.30 103.00V110.00M422.30 103.00H424.30M422.30 110.00H424.30" stroke="#9a9a9a" stroke-width="0.7" fill="none"/>
<path d="M429.60 107.30V119.30M428.60 107.30H430.60M428.60 119.30H430.60" stroke="#9a9a9a" stroke-width="0.7" fill="none"/>
<path d="M435.90 114.00V121.00M434.90 114.00H436.90M434.90 121.00H436.90" stroke="#9a9a9a" stroke-width="0.7" fill="none"/>
<path d="M461.10 100.70V110.70M460.10 100.70H462.10M460.10 110.70H462.10" stroke="#9a9a9a" stroke-width="0.7" fill="none"/>
<path d="M486.30 111.50V118.50M485.30 111.50H487.30M485.30 118.50H487.30" stroke="#9a9a9a" stroke-width="0.7" fill="none"/>
<path d="M511.50 113.40V120.40M510.50 113.40H512.50M510.50 120.40H512.50" stroke="#9a9a9a" stroke-width="0.7" fill="none"/>
<path d="M398.10 109.80V116.80M397.10 109.80H399.10M397.10 116.80H399.10" stroke="#F1A09A" stroke-width="0.7" fill="none"/>
<path d="M410.70 107.80V114.80M409.70 107.80H411.70M409.70 114.80H411.70" stroke="#F1A09A" stroke-width="0.7" fill="none"/>
<path d="M414.90 96.90V103.90M413.90 96.90H415.90M413.90 103.90H415.90" stroke="#F1A09A" stroke-width="0.7" fill="none"/>
<path d="M419.10 81.20V101.20M418.10 81.20H420.10M418.10 101.20H420.10" stroke="#F1A09A" stroke-width="0.7" fill="none"/>
<path d="M423.30 89.60V96.60M422.30 89.60H424.30M422.30 96.60H424.30" stroke="#F1A09A" stroke-width="0.7" fill="none"/>
<path d="M429.60 87.00V103.00M428.60 87.00H430.60M428.60 103.00H430.60" stroke="#F1A09A" stroke-width="0.7" fill="none"/>
<path d="M435.90 97.60V109.60M434.90 97.60H436.90M434.90 109.60H436.90" stroke="#F1A09A" stroke-width="0.7" fill="none"/>
<path d="M461.10 110.10V117.10M460.10 110.10H462.10M460.10 117.10H462.10" stroke="#F1A09A" stroke-width="0.7" fill="none"/>
<path d="M486.30 111.90V118.90M485.30 111.90H487.30M485.30 118.90H487.30" stroke="#F1A09A" stroke-width="0.7" fill="none"/>
<path d="M511.50 111.00V121.00M510.50 111.00H512.50M510.50 121.00H512.50" stroke="#F1A09A" stroke-width="0.7" fill="none"/>
<path d="M398.10 107.80V114.80M397.10 107.80H399.10M397.10 114.80H399.10" stroke="#A9C9E6" stroke-width="0.7" fill="none"/>
<path d="M410.70 117.50V124.50M409.70 117.50H411.70M409.70 124.50H411.70" stroke="#A9C9E6" stroke-width="0.7" fill="none"/>
<path d="M414.90 112.70V119.70M413.90 112.70H415.90M413.90 119.70H415.90" stroke="#A9C9E6" stroke-width="0.7" fill="none"/>
<path d="M419.10 105.30V117.30M418.10 105.30H420.10M418.10 117.30H420.10" stroke="#A9C9E6" stroke-width="0.7" fill="none"/>
<path d="M423.30 103.40V115.40M422.30 103.40H424.30M422.30 115.40H424.30" stroke="#A9C9E6" stroke-width="0.7" fill="none"/>
<path d="M429.60 108.80V115.80M428.60 108.80H430.60M428.60 115.80H430.60" stroke="#A9C9E6" stroke-width="0.7" fill="none"/>
<path d="M435.90 115.90V122.90M434.90 115.90H436.90M434.90 122.90H436.90" stroke="#A9C9E6" stroke-width="0.7" fill="none"/>
<path d="M461.10 111.80V118.80M460.10 111.80H462.10M460.10 118.80H462.10" stroke="#A9C9E6" stroke-width="0.7" fill="none"/>
<path d="M486.30 115.70V122.70M485.30 115.70H487.30M485.30 122.70H487.30" stroke="#A9C9E6" stroke-width="0.7" fill="none"/>
<path d="M511.50 111.50V118.50M510.50 111.50H512.50M510.50 118.50H512.50" stroke="#A9C9E6" stroke-width="0.7" fill="none"/>
<path d="M398.10 113.00V120.00M397.10 113.00H399.10M397.10 120.00H399.10" stroke="#F2D48E" stroke-width="0.7" fill="none"/>
<path d="M410.70 113.60V120.60M409.70 113.60H411.70M409.70 120.60H411.70" stroke="#F2D48E" stroke-width="0.7" fill="none"/>
<path d="M414.90 103.00V110.00M413.90 103.00H415.90M413.90 110.00H415.90" stroke="#F2D48E" stroke-width="0.7" fill="none"/>
<path d="M419.10 87.00V103.00M418.10 87.00H420.10M418.10 103.00H420.10" stroke="#F2D48E" stroke-width="0.7" fill="none"/>
<path d="M423.30 79.60V99.60M422.30 79.60H424.30M422.30 99.60H424.30" stroke="#F2D48E" stroke-width="0.7" fill="none"/>
<path d="M429.60 95.30V102.30M428.60 95.30H430.60M428.60 102.30H430.60" stroke="#F2D48E" stroke-width="0.7" fill="none"/>
<path d="M435.90 105.80V112.80M434.90 105.80H436.90M434.90 112.80H436.90" stroke="#F2D48E" stroke-width="0.7" fill="none"/>
<path d="M461.10 110.40V120.40M460.10 110.40H462.10M460.10 120.40H462.10" stroke="#F2D48E" stroke-width="0.7" fill="none"/>
<path d="M486.30 108.10V118.10M485.30 108.10H487.30M485.30 118.10H487.30" stroke="#F2D48E" stroke-width="0.7" fill="none"/>
<path d="M511.50 111.50V118.50M510.50 111.50H512.50M510.50 118.50H512.50" stroke="#F2D48E" stroke-width="0.7" fill="none"/>
<polyline points="398.10,105.00 410.70,116.20 414.90,109.40 419.10,104.20 423.30,106.50 429.60,113.30 435.90,117.50 461.10,105.70 486.30,115.00 511.50,116.90" fill="none" stroke="#111111" stroke-width="1.3" stroke-linejoin="round"/>
<polyline points="398.10,113.30 410.70,111.30 414.90,100.40 419.10,91.20 423.30,93.10 429.60,95.00 435.90,103.60 461.10,113.60 486.30,115.40 511.50,116.00" fill="none" stroke="#E3312D" stroke-width="1.3" stroke-linejoin="round"/>
<polyline points="398.10,111.30 410.70,121.00 414.90,116.20 419.10,111.30 423.30,109.40 429.60,112.30 435.90,119.40 461.10,115.30 486.30,119.20 511.50,115.00" fill="none" stroke="#4A8CC8" stroke-width="1.3" stroke-linejoin="round"/>
<polyline points="398.10,116.50 410.70,117.10 414.90,106.50 419.10,95.00 423.30,89.60 429.60,98.80 435.90,109.30 461.10,115.40 486.30,113.10 511.50,115.00" fill="none" stroke="#E9AE2A" stroke-width="1.3" stroke-linejoin="round"/>
<circle cx="398.10" cy="105.00" r="2.0" fill="#111111"/>
<circle cx="410.70" cy="116.20" r="2.0" fill="#111111"/>
<circle cx="414.90" cy="109.40" r="2.0" fill="#111111"/>
<circle cx="419.10" cy="104.20" r="2.0" fill="#111111"/>
<circle cx="423.30" cy="106.50" r="2.0" fill="#111111"/>
<circle cx="429.60" cy="113.30" r="2.0" fill="#111111"/>
<circle cx="435.90" cy="117.50" r="2.0" fill="#111111"/>
<circle cx="461.10" cy="105.70" r="2.0" fill="#111111"/>
<circle cx="486.30" cy="115.00" r="2.0" fill="#111111"/>
<circle cx="511.50" cy="116.90" r="2.0" fill="#111111"/>
<rect x="396.40" y="111.60" width="3.40" height="3.40" fill="#E3312D"/>
<rect x="409.00" y="109.60" width="3.40" height="3.40" fill="#E3312D"/>
<rect x="413.20" y="98.70" width="3.40" height="3.40" fill="#E3312D"/>
<rect x="417.40" y="89.50" width="3.40" height="3.40" fill="#E3312D"/>
<rect x="421.60" y="91.40" width="3.40" height="3.40" fill="#E3312D"/>
<rect x="427.90" y="93.30" width="3.40" height="3.40" fill="#E3312D"/>
<rect x="434.20" y="101.90" width="3.40" height="3.40" fill="#E3312D"/>
<rect x="459.40" y="111.90" width="3.40" height="3.40" fill="#E3312D"/>
<rect x="484.60" y="113.70" width="3.40" height="3.40" fill="#E3312D"/>
<rect x="509.80" y="114.30" width="3.40" height="3.40" fill="#E3312D"/>
<path d="M398.10 108.82L400.50 112.98L395.70 112.98Z" fill="#4A8CC8"/>
<path d="M410.70 118.52L413.10 122.68L408.30 122.68Z" fill="#4A8CC8"/>
<path d="M414.90 113.72L417.30 117.88L412.50 117.88Z" fill="#4A8CC8"/>
<path d="M419.10 108.82L421.50 112.98L416.70 112.98Z" fill="#4A8CC8"/>
<path d="M423.30 106.92L425.70 111.08L420.90 111.08Z" fill="#4A8CC8"/>
<path d="M429.60 109.82L432.00 113.98L427.20 113.98Z" fill="#4A8CC8"/>
<path d="M435.90 116.92L438.30 121.08L433.50 121.08Z" fill="#4A8CC8"/>
<path d="M461.10 112.82L463.50 116.98L458.70 116.98Z" fill="#4A8CC8"/>
<path d="M486.30 116.72L488.70 120.88L483.90 120.88Z" fill="#4A8CC8"/>
<path d="M511.50 112.52L513.90 116.68L509.10 116.68Z" fill="#4A8CC8"/>
<path d="M398.10 118.98L400.50 114.82L395.70 114.82Z" fill="#E9AE2A"/>
<path d="M410.70 119.58L413.10 115.42L408.30 115.42Z" fill="#E9AE2A"/>
<path d="M414.90 108.98L417.30 104.82L412.50 104.82Z" fill="#E9AE2A"/>
<path d="M419.10 97.48L421.50 93.32L416.70 93.32Z" fill="#E9AE2A"/>
<path d="M423.30 92.08L425.70 87.92L420.90 87.92Z" fill="#E9AE2A"/>
<path d="M429.60 101.28L432.00 97.12L427.20 97.12Z" fill="#E9AE2A"/>
<path d="M435.90 111.78L438.30 107.62L433.50 107.62Z" fill="#E9AE2A"/>
<path d="M461.10 117.88L463.50 113.72L458.70 113.72Z" fill="#E9AE2A"/>
<path d="M486.30 115.58L488.70 111.42L483.90 111.42Z" fill="#E9AE2A"/>
<path d="M511.50 117.48L513.90 113.32L509.10 113.32Z" fill="#E9AE2A"/>
<text x="1.20" y="209.90" font-size="15.0" fill="#111" text-anchor="start" font-weight="normal" textLength="10.29" lengthAdjust="spacingAndGlyphs" stroke="#111" stroke-width="0.65">D</text>
<text x="90.75" y="203.20" font-size="10.3" fill="#111" text-anchor="middle" font-weight="normal" textLength="21.00" lengthAdjust="spacingAndGlyphs" stroke="#111" stroke-width="0.12">CON</text>
<line x1="36.20" y1="255.0" x2="36.20" y2="325.1" stroke="#555" stroke-width="0.85" stroke-dasharray="1 1.85"/>
<line x1="48.80" y1="255.0" x2="48.80" y2="325.1" stroke="#555" stroke-width="0.85" stroke-dasharray="1 1.85"/>
<line x1="23.8" y1="211.0" x2="23.8" y2="325.6" stroke="#7a7876" stroke-width="1.05"/>
<line x1="23.3" y1="325.1" x2="157.8" y2="325.1" stroke="#7a7876" stroke-width="1.05"/>
<line x1="21.900000000000002" y1="320.10" x2="23.8" y2="320.10" stroke="#555" stroke-width="0.8"/>
<text x="21.10" y="322.90" font-size="7.8" fill="#505050" text-anchor="end" font-weight="normal" textLength="9.33" lengthAdjust="spacingAndGlyphs" >0.0</text>
<line x1="21.900000000000002" y1="294.29" x2="23.8" y2="294.29" stroke="#555" stroke-width="0.8"/>
<text x="21.10" y="297.09" font-size="7.8" fill="#505050" text-anchor="end" font-weight="normal" textLength="9.33" lengthAdjust="spacingAndGlyphs" >2.5</text>
<line x1="21.900000000000002" y1="268.48" x2="23.8" y2="268.48" stroke="#555" stroke-width="0.8"/>
<text x="21.10" y="271.28" font-size="7.8" fill="#505050" text-anchor="end" font-weight="normal" textLength="9.33" lengthAdjust="spacingAndGlyphs" >5.0</text>
<line x1="21.900000000000002" y1="242.67" x2="23.8" y2="242.67" stroke="#555" stroke-width="0.8"/>
<text x="21.10" y="245.47" font-size="7.8" fill="#505050" text-anchor="end" font-weight="normal" textLength="9.33" lengthAdjust="spacingAndGlyphs" >7.5</text>
<line x1="21.900000000000002" y1="216.86" x2="23.8" y2="216.86" stroke="#555" stroke-width="0.8"/>
<text x="21.10" y="219.66" font-size="7.8" fill="#505050" text-anchor="end" font-weight="normal" textLength="13.06" lengthAdjust="spacingAndGlyphs" >10.0</text>
<line x1="36.20" y1="325.1" x2="36.20" y2="327.3" stroke="#555" stroke-width="0.8"/>
<text x="36.20" y="333.70" font-size="7.8" fill="#505050" text-anchor="middle" font-weight="normal" textLength="9.70" lengthAdjust="spacingAndGlyphs" >-30</text>
<line x1="48.80" y1="325.1" x2="48.80" y2="327.3" stroke="#555" stroke-width="0.8"/>
<text x="48.80" y="333.70" font-size="7.8" fill="#505050" text-anchor="middle" font-weight="normal" textLength="3.73" lengthAdjust="spacingAndGlyphs" >0</text>
<line x1="61.40" y1="325.1" x2="61.40" y2="327.3" stroke="#555" stroke-width="0.8"/>
<text x="61.40" y="333.70" font-size="7.8" fill="#505050" text-anchor="middle" font-weight="normal" textLength="7.46" lengthAdjust="spacingAndGlyphs" >30</text>
<line x1="74.00" y1="325.1" x2="74.00" y2="327.3" stroke="#555" stroke-width="0.8"/>
<text x="74.00" y="333.70" font-size="7.8" fill="#505050" text-anchor="middle" font-weight="normal" textLength="7.46" lengthAdjust="spacingAndGlyphs" >60</text>
<line x1="86.60" y1="325.1" x2="86.60" y2="327.3" stroke="#555" stroke-width="0.8"/>
<text x="86.60" y="333.70" font-size="7.8" fill="#505050" text-anchor="middle" font-weight="normal" textLength="7.46" lengthAdjust="spacingAndGlyphs" >90</text>
<line x1="99.20" y1="325.1" x2="99.20" y2="327.3" stroke="#555" stroke-width="0.8"/>
<text x="99.20" y="333.70" font-size="7.8" fill="#505050" text-anchor="middle" font-weight="normal" textLength="11.19" lengthAdjust="spacingAndGlyphs" >120</text>
<line x1="124.40" y1="325.1" x2="124.40" y2="327.3" stroke="#555" stroke-width="0.8"/>
<text x="124.40" y="333.70" font-size="7.8" fill="#505050" text-anchor="middle" font-weight="normal" textLength="11.19" lengthAdjust="spacingAndGlyphs" >180</text>
<line x1="149.60" y1="325.1" x2="149.60" y2="327.3" stroke="#555" stroke-width="0.8"/>
<text x="149.60" y="333.70" font-size="7.8" fill="#505050" text-anchor="middle" font-weight="normal" textLength="11.19" lengthAdjust="spacingAndGlyphs" >240</text>
<text x="90.50" y="341.10" font-size="8.8" fill="#222" text-anchor="middle" font-weight="normal" stroke="#222" stroke-width="0.1">min</text>
<text x="0.00" y="0.00" font-size="9.3" fill="#2a2a2a" text-anchor="middle" font-weight="normal" stroke="#2a2a2a" stroke-width="0.05" transform="translate(8.200000000000001,266.7) rotate(-90)">&#181;g/mL</text>
<path d="M48.80 313.50V318.50M47.80 313.50H49.80M47.80 318.50H49.80" stroke="#9a9a9a" stroke-width="0.7" fill="none"/>
<path d="M50.90 311.50V316.50M49.90 311.50H51.90M49.90 316.50H51.90" stroke="#9a9a9a" stroke-width="0.7" fill="none"/>
<path d="M53.00 303.50V308.50M52.00 303.50H54.00M52.00 308.50H54.00" stroke="#9a9a9a" stroke-width="0.7" fill="none"/>
<path d="M55.10 299.00V313.00M54.10 299.00H56.10M54.10 313.00H56.10" stroke="#9a9a9a" stroke-width="0.7" fill="none"/>
<path d="M57.20 296.50V301.50M56.20 296.50H58.20M56.20 301.50H58.20" stroke="#9a9a9a" stroke-width="0.7" fill="none"/>
<path d="M61.40 277.30V301.30M60.40 277.30H62.40M60.40 301.30H62.40" stroke="#9a9a9a" stroke-width="0.7" fill="none"/>
<path d="M67.70 260.00V278.00M66.70 260.00H68.70M66.70 278.00H68.70" stroke="#9a9a9a" stroke-width="0.7" fill="none"/>
<path d="M74.00 261.50V281.50M73.00 261.50H75.00M73.00 281.50H75.00" stroke="#9a9a9a" stroke-width="0.7" fill="none"/>
<path d="M86.60 265.40V275.40M85.60 265.40H87.60M85.60 275.40H87.60" stroke="#9a9a9a" stroke-width="0.7" fill="none"/>
<path d="M99.20 280.60V288.60M98.20 280.60H100.20M98.20 288.60H100.20" stroke="#9a9a9a" stroke-width="0.7" fill="none"/>
<path d="M124.40 286.70V291.70M123.40 286.70H125.40M123.40 291.70H125.40" stroke="#9a9a9a" stroke-width="0.7" fill="none"/>
<path d="M149.60 295.30V300.30M148.60 295.30H150.60M148.60 300.30H150.60" stroke="#9a9a9a" stroke-width="0.7" fill="none"/>
<path d="M48.80 311.50V316.50M47.80 311.50H49.80M47.80 316.50H49.80" stroke="#F1A09A" stroke-width="0.7" fill="none"/>
<path d="M50.90 310.50V315.50M49.90 310.50H51.90M49.90 315.50H51.90" stroke="#F1A09A" stroke-width="0.7" fill="none"/>
<path d="M53.00 300.50V305.50M52.00 300.50H54.00M52.00 305.50H54.00" stroke="#F1A09A" stroke-width="0.7" fill="none"/>
<path d="M55.10 296.50V301.50M54.10 296.50H56.10M54.10 301.50H56.10" stroke="#F1A09A" stroke-width="0.7" fill="none"/>
<path d="M57.20 286.00V304.00M56.20 286.00H58.20M56.20 304.00H58.20" stroke="#F1A09A" stroke-width="0.7" fill="none"/>
<path d="M61.40 287.50V292.50M60.40 287.50H62.40M60.40 292.50H62.40" stroke="#F1A09A" stroke-width="0.7" fill="none"/>
<path d="M67.70 266.60V282.60M66.70 266.60H68.70M66.70 282.60H68.70" stroke="#F1A09A" stroke-width="0.7" fill="none"/>
<path d="M74.00 276.80V286.80M73.00 276.80H75.00M73.00 286.80H75.00" stroke="#F1A09A" stroke-width="0.7" fill="none"/>
<path d="M86.60 280.90V285.90M85.60 280.90H87.60M85.60 285.90H87.60" stroke="#F1A09A" stroke-width="0.7" fill="none"/>
<path d="M99.20 284.30V289.30M98.20 284.30H100.20M98.20 289.30H100.20" stroke="#F1A09A" stroke-width="0.7" fill="none"/>
<path d="M124.40 284.80V289.80M123.40 284.80H125.40M123.40 289.80H125.40" stroke="#F1A09A" stroke-width="0.7" fill="none"/>
<path d="M149.60 291.40V299.40M148.60 291.40H150.60M148.60 299.40H150.60" stroke="#F1A09A" stroke-width="0.7" fill="none"/>
<path d="M48.80 315.90V320.90M47.80 315.90H49.80M47.80 320.90H49.80" stroke="#A9C9E6" stroke-width="0.7" fill="none"/>
<path d="M50.90 313.50V318.50M49.90 313.50H51.90M49.90 318.50H51.90" stroke="#A9C9E6" stroke-width="0.7" fill="none"/>
<path d="M53.00 302.00V307.00M52.00 302.00H54.00M52.00 307.00H54.00" stroke="#A9C9E6" stroke-width="0.7" fill="none"/>
<path d="M55.10 297.50V302.50M54.10 297.50H56.10M54.10 302.50H56.10" stroke="#A9C9E6" stroke-width="0.7" fill="none"/>
<path d="M57.20 295.50V300.50M56.20 295.50H58.20M56.20 300.50H58.20" stroke="#A9C9E6" stroke-width="0.7" fill="none"/>
<path d="M61.40 294.30V299.30M60.40 294.30H62.40M60.40 299.30H62.40" stroke="#A9C9E6" stroke-width="0.7" fill="none"/>
<path d="M67.70 285.00V293.00M66.70 285.00H68.70M66.70 293.00H68.70" stroke="#A9C9E6" stroke-width="0.7" fill="none"/>
<path d="M74.00 281.00V286.00M73.00 281.00H75.00M73.00 286.00H75.00" stroke="#A9C9E6" stroke-width="0.7" fill="none"/>
<path d="M86.60 286.90V291.90M85.60 286.90H87.60M85.60 291.90H87.60" stroke="#A9C9E6" stroke-width="0.7" fill="none"/>
<path d="M99.20 288.50V293.50M98.20 288.50H100.20M98.20 293.50H100.20" stroke="#A9C9E6" stroke-width="0.7" fill="none"/>
<path d="M124.40 289.30V294.30M123.40 289.30H125.40M123.40 294.30H125.40" stroke="#A9C9E6" stroke-width="0.7" fill="none"/>
<path d="M149.60 294.80V299.80M148.60 294.80H150.60M148.60 299.80H150.60" stroke="#A9C9E6" stroke-width="0.7" fill="none"/>
<path d="M48.80 313.00V318.00M47.80 313.00H49.80M47.80 318.00H49.80" stroke="#F2D48E" stroke-width="0.7" fill="none"/>
<path d="M50.90 311.50V316.50M49.90 311.50H51.90M49.90 316.50H51.90" stroke="#F2D48E" stroke-width="0.7" fill="none"/>
<path d="M53.00 299.80V304.80M52.00 299.80H54.00M52.00 304.80H54.00" stroke="#F2D48E" stroke-width="0.7" fill="none"/>
<path d="M55.10 282.50V310.50M54.10 282.50H56.10M54.10 310.50H56.10" stroke="#F2D48E" stroke-width="0.7" fill="none"/>
<path d="M57.20 282.00V306.00M56.20 282.00H58.20M56.20 306.00H58.20" stroke="#F2D48E" stroke-width="0.7" fill="none"/>
<path d="M61.40 289.00V294.00M60.40 289.00H62.40M60.40 294.00H62.40" stroke="#F2D48E" stroke-width="0.7" fill="none"/>
<path d="M67.70 284.40V289.40M66.70 284.40H68.70M66.70 289.40H68.70" stroke="#F2D48E" stroke-width="0.7" fill="none"/>
<path d="M74.00 279.70V284.70M73.00 279.70H75.00M73.00 284.70H75.00" stroke="#F2D48E" stroke-width="0.7" fill="none"/>
<path d="M86.60 278.90V283.90M85.60 278.90H87.60M85.60 283.90H87.60" stroke="#F2D48E" stroke-width="0.7" fill="none"/>
<path d="M99.20 287.20V292.20M98.20 287.20H100.20M98.20 292.20H100.20" stroke="#F2D48E" stroke-width="0.7" fill="none"/>
<path d="M124.40 275.80V285.80M123.40 275.80H125.40M123.40 285.80H125.40" stroke="#F2D48E" stroke-width="0.7" fill="none"/>
<path d="M149.60 296.10V301.10M148.60 296.10H150.60M148.60 301.10H150.60" stroke="#F2D48E" stroke-width="0.7" fill="none"/>
<polyline points="48.80,316.00 50.90,314.00 53.00,306.00 55.10,306.00 57.20,299.00 61.40,289.30 67.70,269.00 74.00,271.50 86.60,270.40 99.20,284.60 124.40,289.20 149.60,297.80" fill="none" stroke="#111111" stroke-width="1.3" stroke-linejoin="round"/>
<polyline points="48.80,314.00 50.90,313.00 53.00,303.00 55.10,299.00 57.20,295.00 61.40,290.00 67.70,274.60 74.00,281.80 86.60,283.40 99.20,286.80 124.40,287.30 149.60,295.40" fill="none" stroke="#E3312D" stroke-width="1.3" stroke-linejoin="round"/>
<polyline points="48.80,318.40 50.90,316.00 53.00,304.50 55.10,300.00 57.20,298.00 61.40,296.80 67.70,289.00 74.00,283.50 86.60,289.40 99.20,291.00 124.40,291.80 149.60,297.30" fill="none" stroke="#4A8CC8" stroke-width="1.3" stroke-linejoin="round"/>
<polyline points="48.80,315.50 50.90,314.00 53.00,302.30 55.10,296.50 57.20,294.00 61.40,291.50 67.70,286.90 74.00,282.20 86.60,281.40 99.20,289.70 124.40,280.80 149.60,298.60" fill="none" stroke="#E9AE2A" stroke-width="1.3" stroke-linejoin="round"/>
<circle cx="48.80" cy="316.00" r="2.0" fill="#111111"/>
<circle cx="50.90" cy="314.00" r="2.0" fill="#111111"/>
<circle cx="53.00" cy="306.00" r="2.0" fill="#111111"/>
<circle cx="55.10" cy="306.00" r="2.0" fill="#111111"/>
<circle cx="57.20" cy="299.00" r="2.0" fill="#111111"/>
<circle cx="61.40" cy="289.30" r="2.0" fill="#111111"/>
<circle cx="67.70" cy="269.00" r="2.0" fill="#111111"/>
<circle cx="74.00" cy="271.50" r="2.0" fill="#111111"/>
<circle cx="86.60" cy="270.40" r="2.0" fill="#111111"/>
<circle cx="99.20" cy="284.60" r="2.0" fill="#111111"/>
<circle cx="124.40" cy="289.20" r="2.0" fill="#111111"/>
<circle cx="149.60" cy="297.80" r="2.0" fill="#111111"/>
<rect x="47.10" y="312.30" width="3.40" height="3.40" fill="#E3312D"/>
<rect x="49.20" y="311.30" width="3.40" height="3.40" fill="#E3312D"/>
<rect x="51.30" y="301.30" width="3.40" height="3.40" fill="#E3312D"/>
<rect x="53.40" y="297.30" width="3.40" height="3.40" fill="#E3312D"/>
<rect x="55.50" y="293.30" width="3.40" height="3.40" fill="#E3312D"/>
<rect x="59.70" y="288.30" width="3.40" height="3.40" fill="#E3312D"/>
<rect x="66.00" y="272.90" width="3.40" height="3.40" fill="#E3312D"/>
<rect x="72.30" y="280.10" width="3.40" height="3.40" fill="#E3312D"/>
<rect x="84.90" y="281.70" width="3.40" height="3.40" fill="#E3312D"/>
<rect x="97.50" y="285.10" width="3.40" height="3.40" fill="#E3312D"/>
<rect x="122.70" y="285.60" width="3.40" height="3.40" fill="#E3312D"/>
<rect x="147.90" y="293.70" width="3.40" height="3.40" fill="#E3312D"/>
<path d="M48.80 315.92L51.20 320.08L46.40 320.08Z" fill="#4A8CC8"/>
<path d="M50.90 313.52L53.30 317.68L48.50 317.68Z" fill="#4A8CC8"/>
<path d="M53.00 302.02L55.40 306.18L50.60 306.18Z" fill="#4A8CC8"/>
<path d="M55.10 297.52L57.50 301.68L52.70 301.68Z" fill="#4A8CC8"/>
<path d="M57.20 295.52L59.60 299.68L54.80 299.68Z" fill="#4A8CC8"/>
<path d="M61.40 294.32L63.80 298.48L59.00 298.48Z" fill="#4A8CC8"/>
<path d="M67.70 286.52L70.10 290.68L65.30 290.68Z" fill="#4A8CC8"/>
<path d="M74.00 281.02L76.40 285.18L71.60 285.18Z" fill="#4A8CC8"/>
<path d="M86.60 286.92L89.00 291.08L84.20 291.08Z" fill="#4A8CC8"/>
<path d="M99.20 288.52L101.60 292.68L96.80 292.68Z" fill="#4A8CC8"/>
<path d="M124.40 289.32L126.80 293.48L122.00 293.48Z" fill="#4A8CC8"/>
<path d="M149.60 294.82L152.00 298.98L147.20 298.98Z" fill="#4A8CC8"/>
<path d="M48.80 317.98L51.20 313.82L46.40 313.82Z" fill="#E9AE2A"/>
<path d="M50.90 316.48L53.30 312.32L48.50 312.32Z" fill="#E9AE2A"/>
<path d="M53.00 304.78L55.40 300.62L50.60 300.62Z" fill="#E9AE2A"/>
<path d="M55.10 298.98L57.50 294.82L52.70 294.82Z" fill="#E9AE2A"/>
<path d="M57.20 296.48L59.60 292.32L54.80 292.32Z" fill="#E9AE2A"/>
<path d="M61.40 293.98L63.80 289.82L59.00 289.82Z" fill="#E9AE2A"/>
<path d="M67.70 289.38L70.10 285.22L65.30 285.22Z" fill="#E9AE2A"/>
<path d="M74.00 284.68L76.40 280.52L71.60 280.52Z" fill="#E9AE2A"/>
<path d="M86.60 283.88L89.00 279.72L84.20 279.72Z" fill="#E9AE2A"/>
<path d="M99.20 292.18L101.60 288.02L96.80 288.02Z" fill="#E9AE2A"/>
<path d="M124.40 283.28L126.80 279.12L122.00 279.12Z" fill="#E9AE2A"/>
<path d="M149.60 301.08L152.00 296.92L147.20 296.92Z" fill="#E9AE2A"/>
<text x="182.60" y="209.90" font-size="15.0" fill="#111" text-anchor="start" font-weight="normal" textLength="9.50" lengthAdjust="spacingAndGlyphs" stroke="#111" stroke-width="0.65">E</text>
<text x="271.50" y="203.20" font-size="10.3" fill="#111" text-anchor="middle" font-weight="normal" textLength="12.60" lengthAdjust="spacingAndGlyphs" stroke="#111" stroke-width="0.12">SG</text>
<line x1="217.60" y1="211.0" x2="217.60" y2="324.5" stroke="#555" stroke-width="0.85" stroke-dasharray="1 1.85"/>
<line x1="230.20" y1="211.0" x2="230.20" y2="324.5" stroke="#555" stroke-width="0.85" stroke-dasharray="1 1.85"/>
<line x1="205.2" y1="211.0" x2="205.2" y2="325.0" stroke="#7a7876" stroke-width="1.05"/>
<line x1="204.7" y1="324.5" x2="339.2" y2="324.5" stroke="#7a7876" stroke-width="1.05"/>
<line x1="203.29999999999998" y1="319.50" x2="205.2" y2="319.50" stroke="#555" stroke-width="0.8"/>
<text x="202.50" y="322.30" font-size="7.8" fill="#505050" text-anchor="end" font-weight="normal" textLength="9.33" lengthAdjust="spacingAndGlyphs" >0.0</text>
<line x1="203.29999999999998" y1="293.69" x2="205.2" y2="293.69" stroke="#555" stroke-width="0.8"/>
<text x="202.50" y="296.49" font-size="7.8" fill="#505050" text-anchor="end" font-weight="normal" textLength="9.33" lengthAdjust="spacingAndGlyphs" >2.5</text>
<line x1="203.29999999999998" y1="267.88" x2="205.2" y2="267.88" stroke="#555" stroke-width="0.8"/>
<text x="202.50" y="270.68" font-size="7.8" fill="#505050" text-anchor="end" font-weight="normal" textLength="9.33" lengthAdjust="spacingAndGlyphs" >5.0</text>
<line x1="203.29999999999998" y1="242.07" x2="205.2" y2="242.07" stroke="#555" stroke-width="0.8"/>
<text x="202.50" y="244.87" font-size="7.8" fill="#505050" text-anchor="end" font-weight="normal" textLength="9.33" lengthAdjust="spacingAndGlyphs" >7.5</text>
<line x1="203.29999999999998" y1="216.26" x2="205.2" y2="216.26" stroke="#555" stroke-width="0.8"/>
<text x="202.50" y="219.06" font-size="7.8" fill="#505050" text-anchor="end" font-weight="normal" textLength="13.06" lengthAdjust="spacingAndGlyphs" >10.0</text>
<line x1="217.60" y1="324.5" x2="217.60" y2="326.7" stroke="#555" stroke-width="0.8"/>
<text x="217.60" y="333.10" font-size="7.8" fill="#505050" text-anchor="middle" font-weight="normal" textLength="9.70" lengthAdjust="spacingAndGlyphs" >-30</text>
<line x1="230.20" y1="324.5" x2="230.20" y2="326.7" stroke="#555" stroke-width="0.8"/>
<text x="230.20" y="333.10" font-size="7.8" fill="#505050" text-anchor="middle" font-weight="normal" textLength="3.73" lengthAdjust="spacingAndGlyphs" >0</text>
<line x1="242.80" y1="324.5" x2="242.80" y2="326.7" stroke="#555" stroke-width="0.8"/>
<text x="242.80" y="333.10" font-size="7.8" fill="#505050" text-anchor="middle" font-weight="normal" textLength="7.46" lengthAdjust="spacingAndGlyphs" >30</text>
<line x1="255.40" y1="324.5" x2="255.40" y2="326.7" stroke="#555" stroke-width="0.8"/>
<text x="255.40" y="333.10" font-size="7.8" fill="#505050" text-anchor="middle" font-weight="normal" textLength="7.46" lengthAdjust="spacingAndGlyphs" >60</text>
<line x1="268.00" y1="324.5" x2="268.00" y2="326.7" stroke="#555" stroke-width="0.8"/>
<text x="268.00" y="333.10" font-size="7.8" fill="#505050" text-anchor="middle" font-weight="normal" textLength="7.46" lengthAdjust="spacingAndGlyphs" >90</text>
<line x1="280.60" y1="324.5" x2="280.60" y2="326.7" stroke="#555" stroke-width="0.8"/>
<text x="280.60" y="333.10" font-size="7.8" fill="#505050" text-anchor="middle" font-weight="normal" textLength="11.19" lengthAdjust="spacingAndGlyphs" >120</text>
<line x1="305.80" y1="324.5" x2="305.80" y2="326.7" stroke="#555" stroke-width="0.8"/>
<text x="305.80" y="333.10" font-size="7.8" fill="#505050" text-anchor="middle" font-weight="normal" textLength="11.19" lengthAdjust="spacingAndGlyphs" >180</text>
<line x1="331.00" y1="324.5" x2="331.00" y2="326.7" stroke="#555" stroke-width="0.8"/>
<text x="331.00" y="333.10" font-size="7.8" fill="#505050" text-anchor="middle" font-weight="normal" textLength="11.19" lengthAdjust="spacingAndGlyphs" >240</text>
<text x="270.90" y="340.50" font-size="8.8" fill="#222" text-anchor="middle" font-weight="normal" stroke="#222" stroke-width="0.1">min</text>
<text x="0.00" y="0.00" font-size="9.3" fill="#2a2a2a" text-anchor="middle" font-weight="normal" stroke="#2a2a2a" stroke-width="0.05" transform="translate(189.6,266.7) rotate(-90)">&#181;g/mL</text>
<path d="M230.20 314.50V319.50M229.20 314.50H231.20M229.20 319.50H231.20" stroke="#9a9a9a" stroke-width="0.7" fill="none"/>
<path d="M232.30 303.00V308.00M231.30 303.00H233.30M231.30 308.00H233.30" stroke="#9a9a9a" stroke-width="0.7" fill="none"/>
<path d="M234.40 272.20V277.20M233.40 272.20H235.40M233.40 277.20H235.40" stroke="#9a9a9a" stroke-width="0.7" fill="none"/>
<path d="M236.50 263.80V268.80M235.50 263.80H237.50M235.50 268.80H237.50" stroke="#9a9a9a" stroke-width="0.7" fill="none"/>
<path d="M238.60 261.50V266.50M237.60 261.50H239.60M237.60 266.50H239.60" stroke="#9a9a9a" stroke-width="0.7" fill="none"/>
<path d="M242.80 271.70V276.70M241.80 271.70H243.80M241.80 276.70H243.80" stroke="#9a9a9a" stroke-width="0.7" fill="none"/>
<path d="M249.10 268.00V273.00M248.10 268.00H250.10M248.10 273.00H250.10" stroke="#9a9a9a" stroke-width="0.7" fill="none"/>
<path d="M255.40 268.00V273.00M254.40 268.00H256.40M254.40 273.00H256.40" stroke="#9a9a9a" stroke-width="0.7" fill="none"/>
<path d="M268.00 263.80V268.80M267.00 263.80H269.00M267.00 268.80H269.00" stroke="#9a9a9a" stroke-width="0.7" fill="none"/>
<path d="M280.60 266.20V282.20M279.60 266.20H281.60M279.60 282.20H281.60" stroke="#9a9a9a" stroke-width="0.7" fill="none"/>
<path d="M305.80 284.00V294.00M304.80 284.00H306.80M304.80 294.00H306.80" stroke="#9a9a9a" stroke-width="0.7" fill="none"/>
<path d="M331.00 300.40V305.40M330.00 300.40H332.00M330.00 305.40H332.00" stroke="#9a9a9a" stroke-width="0.7" fill="none"/>
<path d="M230.20 315.00V320.00M229.20 315.00H231.20M229.20 320.00H231.20" stroke="#F1A09A" stroke-width="0.7" fill="none"/>
<path d="M232.30 307.50V312.50M231.30 307.50H233.30M231.30 312.50H233.30" stroke="#F1A09A" stroke-width="0.7" fill="none"/>
<path d="M234.40 276.40V281.40M233.40 276.40H235.40M233.40 281.40H235.40" stroke="#F1A09A" stroke-width="0.7" fill="none"/>
<path d="M236.50 268.00V273.00M235.50 268.00H237.50M235.50 273.00H237.50" stroke="#F1A09A" stroke-width="0.7" fill="none"/>
<path d="M238.60 257.50V269.50M237.60 257.50H239.60M237.60 269.50H239.60" stroke="#F1A09A" stroke-width="0.7" fill="none"/>
<path d="M242.80 272.20V277.20M241.80 272.20H243.80M241.80 277.20H243.80" stroke="#F1A09A" stroke-width="0.7" fill="none"/>
<path d="M249.10 266.60V271.60M248.10 266.60H250.10M248.10 271.60H250.10" stroke="#F1A09A" stroke-width="0.7" fill="none"/>
<path d="M255.40 267.30V272.30M254.40 267.30H256.40M254.40 272.30H256.40" stroke="#F1A09A" stroke-width="0.7" fill="none"/>
<path d="M268.00 265.30V275.30M267.00 265.30H269.00M267.00 275.30H269.00" stroke="#F1A09A" stroke-width="0.7" fill="none"/>
<path d="M280.60 282.80V287.80M279.60 282.80H281.60M279.60 287.80H281.60" stroke="#F1A09A" stroke-width="0.7" fill="none"/>
<path d="M305.80 294.80V299.80M304.80 294.80H306.80M304.80 299.80H306.80" stroke="#F1A09A" stroke-width="0.7" fill="none"/>
<path d="M331.00 304.00V309.00M330.00 304.00H332.00M330.00 309.00H332.00" stroke="#F1A09A" stroke-width="0.7" fill="none"/>
<path d="M230.20 309.50V314.50M229.20 309.50H231.20M229.20 314.50H231.20" stroke="#A9C9E6" stroke-width="0.7" fill="none"/>
<path d="M232.30 307.10V312.10M231.30 307.10H233.30M231.30 312.10H233.30" stroke="#A9C9E6" stroke-width="0.7" fill="none"/>
<path d="M234.40 292.30V297.30M233.40 292.30H235.40M233.40 297.30H235.40" stroke="#A9C9E6" stroke-width="0.7" fill="none"/>
<path d="M236.50 234.50V278.50M235.50 234.50H237.50M235.50 278.50H237.50" stroke="#A9C9E6" stroke-width="0.7" fill="none"/>
<path d="M238.60 262.50V267.50M237.60 262.50H239.60M237.60 267.50H239.60" stroke="#A9C9E6" stroke-width="0.7" fill="none"/>
<path d="M242.80 266.00V278.00M241.80 266.00H243.80M241.80 278.00H243.80" stroke="#A9C9E6" stroke-width="0.7" fill="none"/>
<path d="M249.10 275.50V280.50M248.10 275.50H250.10M248.10 280.50H250.10" stroke="#A9C9E6" stroke-width="0.7" fill="none"/>
<path d="M255.40 268.00V273.00M254.40 268.00H256.40M254.40 273.00H256.40" stroke="#A9C9E6" stroke-width="0.7" fill="none"/>
<path d="M268.00 263.30V268.30M267.00 263.30H269.00M267.00 268.30H269.00" stroke="#A9C9E6" stroke-width="0.7" fill="none"/>
<path d="M280.60 276.40V281.40M279.60 276.40H281.60M279.60 281.40H281.60" stroke="#A9C9E6" stroke-width="0.7" fill="none"/>
<path d="M305.80 289.50V294.50M304.80 289.50H306.80M304.80 294.50H306.80" stroke="#A9C9E6" stroke-width="0.7" fill="none"/>
<path d="M331.00 299.60V305.60M330.00 299.60H332.00M330.00 305.60H332.00" stroke="#A9C9E6" stroke-width="0.7" fill="none"/>
<path d="M230.20 311.50V316.50M229.20 311.50H231.20M229.20 316.50H231.20" stroke="#F2D48E" stroke-width="0.7" fill="none"/>
<path d="M232.30 306.50V311.50M231.30 306.50H233.30M231.30 311.50H233.30" stroke="#F2D48E" stroke-width="0.7" fill="none"/>
<path d="M234.40 294.50V299.50M233.40 294.50H235.40M233.40 299.50H235.40" stroke="#F2D48E" stroke-width="0.7" fill="none"/>
<path d="M236.50 283.40V288.40M235.50 283.40H237.50M235.50 288.40H237.50" stroke="#F2D48E" stroke-width="0.7" fill="none"/>
<path d="M238.60 273.50V278.50M237.60 273.50H239.60M237.60 278.50H239.60" stroke="#F2D48E" stroke-width="0.7" fill="none"/>
<path d="M242.80 276.40V281.40M241.80 276.40H243.80M241.80 281.40H243.80" stroke="#F2D48E" stroke-width="0.7" fill="none"/>
<path d="M249.10 269.50V274.50M248.10 269.50H250.10M248.10 274.50H250.10" stroke="#F2D48E" stroke-width="0.7" fill="none"/>
<path d="M255.40 265.20V270.20M254.40 265.20H256.40M254.40 270.20H256.40" stroke="#F2D48E" stroke-width="0.7" fill="none"/>
<path d="M268.00 255.20V271.20M267.00 255.20H269.00M267.00 271.20H269.00" stroke="#F2D48E" stroke-width="0.7" fill="none"/>
<path d="M280.60 278.40V283.40M279.60 278.40H281.60M279.60 283.40H281.60" stroke="#F2D48E" stroke-width="0.7" fill="none"/>
<path d="M305.80 290.40V295.40M304.80 290.40H306.80M304.80 295.40H306.80" stroke="#F2D48E" stroke-width="0.7" fill="none"/>
<path d="M331.00 302.20V307.20M330.00 302.20H332.00M330.00 307.20H332.00" stroke="#F2D48E" stroke-width="0.7" fill="none"/>
<polyline points="230.20,317.00 232.30,305.50 234.40,274.70 236.50,266.30 238.60,264.00 242.80,274.20 249.10,270.50 255.40,270.50 268.00,266.30 280.60,274.20 305.80,289.00 331.00,302.90" fill="none" stroke="#111111" stroke-width="1.3" stroke-linejoin="round"/>
<polyline points="230.20,317.50 232.30,310.00 234.40,278.90 236.50,270.50 238.60,263.50 242.80,274.70 249.10,269.10 255.40,269.80 268.00,270.30 280.60,285.30 305.80,297.30 331.00,306.50" fill="none" stroke="#E3312D" stroke-width="1.3" stroke-linejoin="round"/>
<polyline points="230.20,312.00 232.30,309.60 234.40,294.80 236.50,256.50 238.60,265.00 242.80,272.00 249.10,278.00 255.40,270.50 268.00,265.80 280.60,278.90 305.80,292.00 331.00,302.60" fill="none" stroke="#4A8CC8" stroke-width="1.3" stroke-linejoin="round"/>
<polyline points="230.20,314.00 232.30,309.00 234.40,297.00 236.50,285.90 238.60,276.00 242.80,278.90 249.10,272.00 255.40,267.70 268.00,263.20 280.60,280.90 305.80,292.90 331.00,304.70" fill="none" stroke="#E9AE2A" stroke-width="1.3" stroke-linejoin="round"/>
<circle cx="230.20" cy="317.00" r="2.0" fill="#111111"/>
<circle cx="232.30" cy="305.50" r="2.0" fill="#111111"/>
<circle cx="234.40" cy="274.70" r="2.0" fill="#111111"/>
<circle cx="236.50" cy="266.30" r="2.0" fill="#111111"/>
<circle cx="238.60" cy="264.00" r="2.0" fill="#111111"/>
<circle cx="242.80" cy="274.20" r="2.0" fill="#111111"/>
<circle cx="249.10" cy="270.50" r="2.0" fill="#111111"/>
<circle cx="255.40" cy="270.50" r="2.0" fill="#111111"/>
<circle cx="268.00" cy="266.30" r="2.0" fill="#111111"/>
<circle cx="280.60" cy="274.20" r="2.0" fill="#111111"/>
<circle cx="305.80" cy="289.00" r="2.0" fill="#111111"/>
<circle cx="331.00" cy="302.90" r="2.0" fill="#111111"/>
<rect x="228.50" y="315.80" width="3.40" height="3.40" fill="#E3312D"/>
<rect x="230.60" y="308.30" width="3.40" height="3.40" fill="#E3312D"/>
<rect x="232.70" y="277.20" width="3.40" height="3.40" fill="#E3312D"/>
<rect x="234.80" y="268.80" width="3.40" height="3.40" fill="#E3312D"/>
<rect x="236.90" y="261.80" width="3.40" height="3.40" fill="#E3312D"/>
<rect x="241.10" y="273.00" width="3.40" height="3.40" fill="#E3312D"/>
<rect x="247.40" y="267.40" width="3.40" height="3.40" fill="#E3312D"/>
<rect x="253.70" y="268.10" width="3.40" height="3.40" fill="#E3312D"/>
<rect x="266.30" y="268.60" width="3.40" height="3.40" fill="#E3312D"/>
<rect x="278.90" y="283.60" width="3.40" height="3.40" fill="#E3312D"/>
<rect x="304.10" y="295.60" width="3.40" height="3.40" fill="#E3312D"/>
<rect x="329.30" y="304.80" width="3.40" height="3.40" fill="#E3312D"/>
<path d="M230.20 309.52L232.60 313.68L227.80 313.68Z" fill="#4A8CC8"/>
<path d="M232.30 307.12L234.70 311.28L229.90 311.28Z" fill="#4A8CC8"/>
<path d="M234.40 292.32L236.80 296.48L232.00 296.48Z" fill="#4A8CC8"/>
<path d="M236.50 254.02L238.90 258.18L234.10 258.18Z" fill="#4A8CC8"/>
<path d="M238.60 262.52L241.00 266.68L236.20 266.68Z" fill="#4A8CC8"/>
<path d="M242.80 269.52L245.20 273.68L240.40 273.68Z" fill="#4A8CC8"/>
<path d="M249.10 275.52L251.50 279.68L246.70 279.68Z" fill="#4A8CC8"/>
<path d="M255.40 268.02L257.80 272.18L253.00 272.18Z" fill="#4A8CC8"/>
<path d="M268.00 263.32L270.40 267.48L265.60 267.48Z" fill="#4A8CC8"/>
<path d="M280.60 276.42L283.00 280.58L278.20 280.58Z" fill="#4A8CC8"/>
<path d="M305.80 289.52L308.20 293.68L303.40 293.68Z" fill="#4A8CC8"/>
<path d="M331.00 300.12L333.40 304.28L328.60 304.28Z" fill="#4A8CC8"/>
<path d="M230.20 316.48L232.60 312.32L227.80 312.32Z" fill="#E9AE2A"/>
<path d="M232.30 311.48L234.70 307.32L229.90 307.32Z" fill="#E9AE2A"/>
<path d="M234.40 299.48L236.80 295.32L232.00 295.32Z" fill="#E9AE2A"/>
<path d="M236.50 288.38L238.90 284.22L234.10 284.22Z" fill="#E9AE2A"/>
<path d="M238.60 278.48L241.00 274.32L236.20 274.32Z" fill="#E9AE2A"/>
<path d="M242.80 281.38L245.20 277.22L240.40 277.22Z" fill="#E9AE2A"/>
<path d="M249.10 274.48L251.50 270.32L246.70 270.32Z" fill="#E9AE2A"/>
<path d="M255.40 270.18L257.80 266.02L253.00 266.02Z" fill="#E9AE2A"/>
<path d="M268.00 265.68L270.40 261.52L265.60 261.52Z" fill="#E9AE2A"/>
<path d="M280.60 283.38L283.00 279.22L278.20 279.22Z" fill="#E9AE2A"/>
<path d="M305.80 295.38L308.20 291.22L303.40 291.22Z" fill="#E9AE2A"/>
<path d="M331.00 307.18L333.40 303.02L328.60 303.02Z" fill="#E9AE2A"/>
<text x="363.10" y="209.90" font-size="15.0" fill="#111" text-anchor="start" font-weight="normal" textLength="8.70" lengthAdjust="spacingAndGlyphs" stroke="#111" stroke-width="0.65">F</text>
<text x="453.85" y="203.20" font-size="10.3" fill="#111" text-anchor="middle" font-weight="normal" textLength="25.20" lengthAdjust="spacingAndGlyphs" stroke="#111" stroke-width="0.12">RYGB</text>
<line x1="398.10" y1="211.0" x2="398.10" y2="324.5" stroke="#555" stroke-width="0.85" stroke-dasharray="1 1.85"/>
<line x1="410.70" y1="211.0" x2="410.70" y2="324.5" stroke="#555" stroke-width="0.85" stroke-dasharray="1 1.85"/>
<line x1="385.7" y1="211.0" x2="385.7" y2="325.0" stroke="#7a7876" stroke-width="1.05"/>
<line x1="385.2" y1="324.5" x2="519.7" y2="324.5" stroke="#7a7876" stroke-width="1.05"/>
<line x1="383.8" y1="319.50" x2="385.7" y2="319.50" stroke="#555" stroke-width="0.8"/>
<text x="383.00" y="322.30" font-size="7.8" fill="#505050" text-anchor="end" font-weight="normal" textLength="9.33" lengthAdjust="spacingAndGlyphs" >0.0</text>
<line x1="383.8" y1="293.69" x2="385.7" y2="293.69" stroke="#555" stroke-width="0.8"/>
<text x="383.00" y="296.49" font-size="7.8" fill="#505050" text-anchor="end" font-weight="normal" textLength="9.33" lengthAdjust="spacingAndGlyphs" >2.5</text>
<line x1="383.8" y1="267.88" x2="385.7" y2="267.88" stroke="#555" stroke-width="0.8"/>
<text x="383.00" y="270.68" font-size="7.8" fill="#505050" text-anchor="end" font-weight="normal" textLength="9.33" lengthAdjust="spacingAndGlyphs" >5.0</text>
<line x1="383.8" y1="242.07" x2="385.7" y2="242.07" stroke="#555" stroke-width="0.8"/>
<text x="383.00" y="244.87" font-size="7.8" fill="#505050" text-anchor="end" font-weight="normal" textLength="9.33" lengthAdjust="spacingAndGlyphs" >7.5</text>
<line x1="383.8" y1="216.26" x2="385.7" y2="216.26" stroke="#555" stroke-width="0.8"/>
<text x="383.00" y="219.06" font-size="7.8" fill="#505050" text-anchor="end" font-weight="normal" textLength="13.06" lengthAdjust="spacingAndGlyphs" >10.0</text>
<line x1="398.10" y1="324.5" x2="398.10" y2="326.7" stroke="#555" stroke-width="0.8"/>
<text x="398.10" y="333.10" font-size="7.8" fill="#505050" text-anchor="middle" font-weight="normal" textLength="9.70" lengthAdjust="spacingAndGlyphs" >-30</text>
<line x1="410.70" y1="324.5" x2="410.70" y2="326.7" stroke="#555" stroke-width="0.8"/>
<text x="410.70" y="333.10" font-size="7.8" fill="#505050" text-anchor="middle" font-weight="normal" textLength="3.73" lengthAdjust="spacingAndGlyphs" >0</text>
<line x1="423.30" y1="324.5" x2="423.30" y2="326.7" stroke="#555" stroke-width="0.8"/>
<text x="423.30" y="333.10" font-size="7.8" fill="#505050" text-anchor="middle" font-weight="normal" textLength="7.46" lengthAdjust="spacingAndGlyphs" >30</text>
<line x1="435.90" y1="324.5" x2="435.90" y2="326.7" stroke="#555" stroke-width="0.8"/>
<text x="435.90" y="333.10" font-size="7.8" fill="#505050" text-anchor="middle" font-weight="normal" textLength="7.46" lengthAdjust="spacingAndGlyphs" >60</text>
<line x1="448.50" y1="324.5" x2="448.50" y2="326.7" stroke="#555" stroke-width="0.8"/>
<text x="448.50" y="333.10" font-size="7.8" fill="#505050" text-anchor="middle" font-weight="normal" textLength="7.46" lengthAdjust="spacingAndGlyphs" >90</text>
<line x1="461.10" y1="324.5" x2="461.10" y2="326.7" stroke="#555" stroke-width="0.8"/>
<text x="461.10" y="333.10" font-size="7.8" fill="#505050" text-anchor="middle" font-weight="normal" textLength="11.19" lengthAdjust="spacingAndGlyphs" >120</text>
<line x1="486.30" y1="324.5" x2="486.30" y2="326.7" stroke="#555" stroke-width="0.8"/>
<text x="486.30" y="333.10" font-size="7.8" fill="#505050" text-anchor="middle" font-weight="normal" textLength="11.19" lengthAdjust="spacingAndGlyphs" >180</text>
<line x1="511.50" y1="324.5" x2="511.50" y2="326.7" stroke="#555" stroke-width="0.8"/>
<text x="511.50" y="333.10" font-size="7.8" fill="#505050" text-anchor="middle" font-weight="normal" textLength="11.19" lengthAdjust="spacingAndGlyphs" >240</text>
<text x="453.00" y="340.50" font-size="8.8" fill="#222" text-anchor="middle" font-weight="normal" stroke="#222" stroke-width="0.1">min</text>
<text x="0.00" y="0.00" font-size="9.3" fill="#2a2a2a" text-anchor="middle" font-weight="normal" stroke="#2a2a2a" stroke-width="0.05" transform="translate(370.09999999999997,266.7) rotate(-90)">&#181;g/mL</text>
<path d="M410.70 315.50V320.50M409.70 315.50H411.70M409.70 320.50H411.70" stroke="#9a9a9a" stroke-width="0.7" fill="none"/>
<path d="M412.80 297.50V302.50M411.80 297.50H413.80M411.80 302.50H413.80" stroke="#9a9a9a" stroke-width="0.7" fill="none"/>
<path d="M414.90 257.20V262.20M413.90 257.20H415.90M413.90 262.20H415.90" stroke="#9a9a9a" stroke-width="0.7" fill="none"/>
<path d="M417.00 248.40V253.40M416.00 248.40H418.00M416.00 253.40H418.00" stroke="#9a9a9a" stroke-width="0.7" fill="none"/>
<path d="M419.10 227.70V241.70M418.10 227.70H420.10M418.10 241.70H420.10" stroke="#9a9a9a" stroke-width="0.7" fill="none"/>
<path d="M423.30 255.40V260.40M422.30 255.40H424.30M422.30 260.40H424.30" stroke="#9a9a9a" stroke-width="0.7" fill="none"/>
<path d="M429.60 269.50V274.50M428.60 269.50H430.60M428.60 274.50H430.60" stroke="#9a9a9a" stroke-width="0.7" fill="none"/>
<path d="M435.90 268.50V273.50M434.90 268.50H436.90M434.90 273.50H436.90" stroke="#9a9a9a" stroke-width="0.7" fill="none"/>
<path d="M448.50 271.60V279.60M447.50 271.60H449.50M447.50 279.60H449.50" stroke="#9a9a9a" stroke-width="0.7" fill="none"/>
<path d="M461.10 285.10V293.10M460.10 285.10H462.10M460.10 293.10H462.10" stroke="#9a9a9a" stroke-width="0.7" fill="none"/>
<path d="M486.30 293.00V301.00M485.30 293.00H487.30M485.30 301.00H487.30" stroke="#9a9a9a" stroke-width="0.7" fill="none"/>
<path d="M511.50 301.90V306.90M510.50 301.90H512.50M510.50 306.90H512.50" stroke="#9a9a9a" stroke-width="0.7" fill="none"/>
<path d="M410.70 316.50V321.50M409.70 316.50H411.70M409.70 321.50H411.70" stroke="#F1A09A" stroke-width="0.7" fill="none"/>
<path d="M412.80 287.20V292.20M411.80 287.20H413.80M411.80 292.20H413.80" stroke="#F1A09A" stroke-width="0.7" fill="none"/>
<path d="M414.90 233.20V253.20M413.90 233.20H415.90M413.90 253.20H415.90" stroke="#F1A09A" stroke-width="0.7" fill="none"/>
<path d="M417.00 236.00V252.00M416.00 236.00H418.00M416.00 252.00H418.00" stroke="#F1A09A" stroke-width="0.7" fill="none"/>
<path d="M419.10 236.60V241.60M418.10 236.60H420.10M418.10 241.60H420.10" stroke="#F1A09A" stroke-width="0.7" fill="none"/>
<path d="M423.30 258.80V263.80M422.30 258.80H424.30M422.30 263.80H424.30" stroke="#F1A09A" stroke-width="0.7" fill="none"/>
<path d="M429.60 261.00V266.00M428.60 261.00H430.60M428.60 266.00H430.60" stroke="#F1A09A" stroke-width="0.7" fill="none"/>
<path d="M435.90 268.40V273.40M434.90 268.40H436.90M434.90 273.40H436.90" stroke="#F1A09A" stroke-width="0.7" fill="none"/>
<path d="M448.50 272.10V277.10M447.50 272.10H449.50M447.50 277.10H449.50" stroke="#F1A09A" stroke-width="0.7" fill="none"/>
<path d="M461.10 290.70V295.70M460.10 290.70H462.10M460.10 295.70H462.10" stroke="#F1A09A" stroke-width="0.7" fill="none"/>
<path d="M486.30 298.40V303.40M485.30 298.40H487.30M485.30 303.40H487.30" stroke="#F1A09A" stroke-width="0.7" fill="none"/>
<path d="M511.50 306.30V311.30M510.50 306.30H512.50M510.50 311.30H512.50" stroke="#F1A09A" stroke-width="0.7" fill="none"/>
<path d="M410.70 313.00V318.00M409.70 313.00H411.70M409.70 318.00H411.70" stroke="#A9C9E6" stroke-width="0.7" fill="none"/>
<path d="M412.80 293.10V298.10M411.80 293.10H413.80M411.80 298.10H413.80" stroke="#A9C9E6" stroke-width="0.7" fill="none"/>
<path d="M414.90 257.80V262.80M413.90 257.80H415.90M413.90 262.80H415.90" stroke="#A9C9E6" stroke-width="0.7" fill="none"/>
<path d="M417.00 254.90V259.90M416.00 254.90H418.00M416.00 259.90H418.00" stroke="#A9C9E6" stroke-width="0.7" fill="none"/>
<path d="M419.10 253.70V265.70M418.10 253.70H420.10M418.10 265.70H420.10" stroke="#A9C9E6" stroke-width="0.7" fill="none"/>
<path d="M423.30 265.50V270.50M422.30 265.50H424.30M422.30 270.50H424.30" stroke="#A9C9E6" stroke-width="0.7" fill="none"/>
<path d="M429.60 271.50V276.50M428.60 271.50H430.60M428.60 276.50H430.60" stroke="#A9C9E6" stroke-width="0.7" fill="none"/>
<path d="M435.90 269.10V274.10M434.90 269.10H436.90M434.90 274.10H436.90" stroke="#A9C9E6" stroke-width="0.7" fill="none"/>
<path d="M448.50 270.30V280.30M447.50 270.30H449.50M447.50 280.30H449.50" stroke="#A9C9E6" stroke-width="0.7" fill="none"/>
<path d="M461.10 292.50V297.50M460.10 292.50H462.10M460.10 297.50H462.10" stroke="#A9C9E6" stroke-width="0.7" fill="none"/>
<path d="M486.30 299.80V307.80M485.30 299.80H487.30M485.30 307.80H487.30" stroke="#A9C9E6" stroke-width="0.7" fill="none"/>
<path d="M511.50 310.10V315.10M510.50 310.10H512.50M510.50 315.10H512.50" stroke="#A9C9E6" stroke-width="0.7" fill="none"/>
<path d="M410.70 314.80V319.80M409.70 314.80H411.70M409.70 319.80H411.70" stroke="#F2D48E" stroke-width="0.7" fill="none"/>
<path d="M412.80 290.70V295.70M411.80 290.70H413.80M411.80 295.70H413.80" stroke="#F2D48E" stroke-width="0.7" fill="none"/>
<path d="M414.90 254.30V259.30M413.90 254.30H415.90M413.90 259.30H415.90" stroke="#F2D48E" stroke-width="0.7" fill="none"/>
<path d="M417.00 250.40V255.40M416.00 250.40H418.00M416.00 255.40H418.00" stroke="#F2D48E" stroke-width="0.7" fill="none"/>
<path d="M419.10 245.50V257.50M418.10 245.50H420.10M418.10 257.50H420.10" stroke="#F2D48E" stroke-width="0.7" fill="none"/>
<path d="M423.30 269.50V274.50M422.30 269.50H424.30M422.30 274.50H424.30" stroke="#F2D48E" stroke-width="0.7" fill="none"/>
<path d="M429.60 246.00V278.00M428.60 246.00H430.60M428.60 278.00H430.60" stroke="#F2D48E" stroke-width="0.7" fill="none"/>
<path d="M435.90 272.80V277.80M434.90 272.80H436.90M434.90 277.80H436.90" stroke="#F2D48E" stroke-width="0.7" fill="none"/>
<path d="M448.50 280.90V285.90M447.50 280.90H449.50M447.50 285.90H449.50" stroke="#F2D48E" stroke-width="0.7" fill="none"/>
<path d="M461.10 287.20V295.20M460.10 287.20H462.10M460.10 295.20H462.10" stroke="#F2D48E" stroke-width="0.7" fill="none"/>
<path d="M486.30 297.50V302.50M485.30 297.50H487.30M485.30 302.50H487.30" stroke="#F2D48E" stroke-width="0.7" fill="none"/>
<path d="M511.50 301.00V309.00M510.50 301.00H512.50M510.50 309.00H512.50" stroke="#F2D48E" stroke-width="0.7" fill="none"/>
<polyline points="410.70,318.00 412.80,300.00 414.90,259.70 417.00,250.90 419.10,234.70 423.30,257.90 429.60,272.00 435.90,271.00 448.50,275.60 461.10,289.10 486.30,297.00 511.50,304.40" fill="none" stroke="#111111" stroke-width="1.3" stroke-linejoin="round"/>
<polyline points="410.70,319.00 412.80,289.70 414.90,243.20 417.00,244.00 419.10,239.10 423.30,261.30 429.60,263.50 435.90,270.90 448.50,274.60 461.10,293.20 486.30,300.90 511.50,308.80" fill="none" stroke="#E3312D" stroke-width="1.3" stroke-linejoin="round"/>
<polyline points="410.70,315.50 412.80,295.60 414.90,260.30 417.00,257.40 419.10,259.70 423.30,268.00 429.60,274.00 435.90,271.60 448.50,275.30 461.10,295.00 486.30,303.80 511.50,312.60" fill="none" stroke="#4A8CC8" stroke-width="1.3" stroke-linejoin="round"/>
<polyline points="410.70,317.30 412.80,293.20 414.90,256.80 417.00,252.90 419.10,251.50 423.30,272.00 429.60,262.00 435.90,275.30 448.50,283.40 461.10,291.20 486.30,300.00 511.50,305.00" fill="none" stroke="#E9AE2A" stroke-width="1.3" stroke-linejoin="round"/>
<circle cx="410.70" cy="318.00" r="2.0" fill="#111111"/>
<circle cx="412.80" cy="300.00" r="2.0" fill="#111111"/>
<circle cx="414.90" cy="259.70" r="2.0" fill="#111111"/>
<circle cx="417.00" cy="250.90" r="2.0" fill="#111111"/>
<circle cx="419.10" cy="234.70" r="2.0" fill="#111111"/>
<circle cx="423.30" cy="257.90" r="2.0" fill="#111111"/>
<circle cx="429.60" cy="272.00" r="2.0" fill="#111111"/>
<circle cx="435.90" cy="271.00" r="2.0" fill="#111111"/>
<circle cx="448.50" cy="275.60" r="2.0" fill="#111111"/>
<circle cx="461.10" cy="289.10" r="2.0" fill="#111111"/>
<circle cx="486.30" cy="297.00" r="2.0" fill="#111111"/>
<circle cx="511.50" cy="304.40" r="2.0" fill="#111111"/>
<rect x="409.00" y="317.30" width="3.40" height="3.40" fill="#E3312D"/>
<rect x="411.10" y="288.00" width="3.40" height="3.40" fill="#E3312D"/>
<rect x="413.20" y="241.50" width="3.40" height="3.40" fill="#E3312D"/>
<rect x="415.30" y="242.30" width="3.40" height="3.40" fill="#E3312D"/>
<rect x="417.40" y="237.40" width="3.40" height="3.40" fill="#E3312D"/>
<rect x="421.60" y="259.60" width="3.40" height="3.40" fill="#E3312D"/>
<rect x="427.90" y="261.80" width="3.40" height="3.40" fill="#E3312D"/>
<rect x="434.20" y="269.20" width="3.40" height="3.40" fill="#E3312D"/>
<rect x="446.80" y="272.90" width="3.40" height="3.40" fill="#E3312D"/>
<rect x="459.40" y="291.50" width="3.40" height="3.40" fill="#E3312D"/>
<rect x="484.60" y="299.20" width="3.40" height="3.40" fill="#E3312D"/>
<rect x="509.80" y="307.10" width="3.40" height="3.40" fill="#E3312D"/>
<path d="M410.70 313.02L413.10 317.18L408.30 317.18Z" fill="#4A8CC8"/>
<path d="M412.80 293.12L415.20 297.28L410.40 297.28Z" fill="#4A8CC8"/>
<path d="M414.90 257.82L417.30 261.98L412.50 261.98Z" fill="#4A8CC8"/>
<path d="M417.00 254.92L419.40 259.08L414.60 259.08Z" fill="#4A8CC8"/>
<path d="M419.10 257.22L421.50 261.38L416.70 261.38Z" fill="#4A8CC8"/>
<path d="M423.30 265.52L425.70 269.68L420.90 269.68Z" fill="#4A8CC8"/>
<path d="M429.60 271.52L432.00 275.68L427.20 275.68Z" fill="#4A8CC8"/>
<path d="M435.90 269.12L438.30 273.28L433.50 273.28Z" fill="#4A8CC8"/>
<path d="M448.50 272.82L450.90 276.98L446.10 276.98Z" fill="#4A8CC8"/>
<path d="M461.10 292.52L463.50 296.68L458.70 296.68Z" fill="#4A8CC8"/>
<path d="M486.30 301.32L488.70 305.48L483.90 305.48Z" fill="#4A8CC8"/>
<path d="M511.50 310.12L513.90 314.28L509.10 314.28Z" fill="#4A8CC8"/>
<path d="M410.70 319.78L413.10 315.62L408.30 315.62Z" fill="#E9AE2A"/>
<path d="M412.80 295.68L415.20 291.52L410.40 291.52Z" fill="#E9AE2A"/>
<path d="M414.90 259.28L417.30 255.12L412.50 255.12Z" fill="#E9AE2A"/>
<path d="M417.00 255.38L419.40 251.22L414.60 251.22Z" fill="#E9AE2A"/>
<path d="M419.10 253.98L421.50 249.82L416.70 249.82Z" fill="#E9AE2A"/>
<path d="M423.30 274.48L425.70 270.32L420.90 270.32Z" fill="#E9AE2A"/>
<path d="M429.60 264.48L432.00 260.32L427.20 260.32Z" fill="#E9AE2A"/>
<path d="M435.90 277.78L438.30 273.62L433.50 273.62Z" fill="#E9AE2A"/>
<path d="M448.50 285.88L450.90 281.72L446.10 281.72Z" fill="#E9AE2A"/>
<path d="M461.10 293.68L463.50 289.52L458.70 289.52Z" fill="#E9AE2A"/>
<path d="M486.30 302.48L488.70 298.32L483.90 298.32Z" fill="#E9AE2A"/>
<path d="M511.50 307.48L513.90 303.32L509.10 303.32Z" fill="#E9AE2A"/>
<circle cx="30.60" cy="40.90" r="2.5" fill="#111111"/>
<text x="35.30" y="42.90" font-size="7.0" fill="#111" text-anchor="start" font-weight="normal" textLength="23.60" lengthAdjust="spacingAndGlyphs" stroke="#111111" stroke-width="0.1">Placebo</text>
<rect x="28.48" y="47.45" width="4.25" height="4.25" fill="#E3312D"/>
<text x="35.30" y="51.57" font-size="7.0" fill="#E3312D" text-anchor="start" font-weight="normal" textLength="50.70" lengthAdjust="spacingAndGlyphs" stroke="#E3312D" stroke-width="0.1">GLP-1R blockade</text>
<path d="M30.60 55.14L33.60 60.34L27.60 60.34Z" fill="#4A8CC8"/>
<text x="35.30" y="60.24" font-size="7.0" fill="#4A8CC8" text-anchor="start" font-weight="normal" textLength="43.40" lengthAdjust="spacingAndGlyphs" stroke="#4A8CC8" stroke-width="0.1">GIPR blockade</text>
<path d="M30.60 70.01L33.60 64.81L27.60 64.81Z" fill="#E9AE2A"/>
<text x="35.30" y="68.91" font-size="7.0" fill="#E9AE2A" text-anchor="start" font-weight="normal" textLength="68.50" lengthAdjust="spacingAndGlyphs" stroke="#E9AE2A" stroke-width="0.1">GLP-1R/GIPR blockade</text>
<circle cx="30.60" cy="216.90" r="2.5" fill="#111111"/>
<text x="35.30" y="218.90" font-size="7.0" fill="#111" text-anchor="start" font-weight="normal" textLength="23.60" lengthAdjust="spacingAndGlyphs" stroke="#111111" stroke-width="0.1">Placebo</text>
<rect x="28.48" y="223.44" width="4.25" height="4.25" fill="#E3312D"/>
<text x="35.30" y="227.57" font-size="7.0" fill="#E3312D" text-anchor="start" font-weight="normal" textLength="50.70" lengthAdjust="spacingAndGlyphs" stroke="#E3312D" stroke-width="0.1">GLP-1R blockade</text>
<path d="M30.60 231.14L33.60 236.34L27.60 236.34Z" fill="#4A8CC8"/>
<text x="35.30" y="236.24" font-size="7.0" fill="#4A8CC8" text-anchor="start" font-weight="normal" textLength="43.40" lengthAdjust="spacingAndGlyphs" stroke="#4A8CC8" stroke-width="0.1">GIPR blockade</text>
<path d="M30.60 246.01L33.60 240.81L27.60 240.81Z" fill="#E9AE2A"/>
<text x="35.30" y="244.91" font-size="7.0" fill="#E9AE2A" text-anchor="start" font-weight="normal" textLength="68.50" lengthAdjust="spacingAndGlyphs" stroke="#E9AE2A" stroke-width="0.1">GLP-1R/GIPR blockade</text>
</svg></body></html>
